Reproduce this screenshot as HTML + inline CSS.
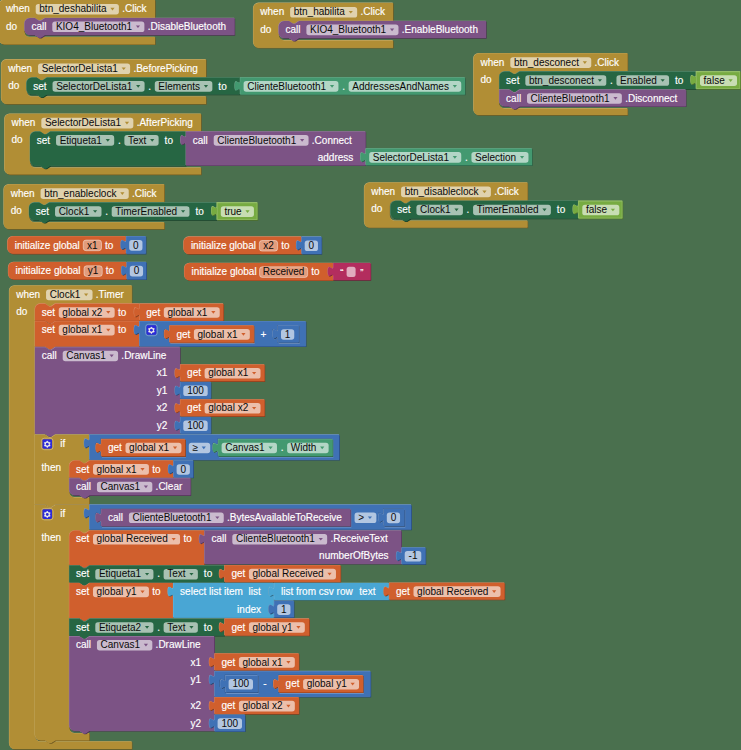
<!DOCTYPE html>
<html><head><meta charset="utf-8"><title>Blocks</title>
<style>html,body{margin:0;padding:0;background:#4a704e;overflow:hidden}svg{display:block;font-family:"Liberation Sans",sans-serif}text{white-space:pre}.l{fill:#fff;stroke:#fff;stroke-width:.15px}.f{fill:#0a0a0a}</style>
</head><body>
<svg width="741" height="750" viewBox="0 0 741 750" font-family="Liberation Sans, sans-serif" font-size="10">
<rect width="741" height="750" fill="#4a704e"/>
<path d="M -1.1,5.24 a 5.44,5.44 0 0,1 5.44,-5.44 H 155 v 18.2 H 44.7 l -4.08,2.72 -2.04,0 -4.08,-2.72 H 29.74 a 5.44,5.44 0 0,0 -5.44,5.44 v 8.22 a 5.44,5.44 0 0,0 5.44,5.44 H 155 v 7.3 H 4.34 a 5.44,5.44 0 0,1 -5.44,-5.44 z" fill="#735c22" transform="translate(.7 .7)"/>
<path d="M -1.1,5.24 a 5.44,5.44 0 0,1 5.44,-5.44 H 155 v 18.2 H 44.7 l -4.08,2.72 -2.04,0 -4.08,-2.72 H 29.74 a 5.44,5.44 0 0,0 -5.44,5.44 v 8.22 a 5.44,5.44 0 0,0 5.44,5.44 H 155 v 7.3 H 4.34 a 5.44,5.44 0 0,1 -5.44,-5.44 z" fill="#c9b275" transform="translate(-.35 -.35)"/>
<path d="M -1.1,5.24 a 5.44,5.44 0 0,1 5.44,-5.44 H 155 v 18.2 H 44.7 l -4.08,2.72 -2.04,0 -4.08,-2.72 H 29.74 a 5.44,5.44 0 0,0 -5.44,5.44 v 8.22 a 5.44,5.44 0 0,0 5.44,5.44 H 155 v 7.3 H 4.34 a 5.44,5.44 0 0,1 -5.44,-5.44 z" fill="#b18e35"/>
<text x="5.9" y="12.3" class="l">when</text>
<rect x="35.71" y="3.9" width="83.18" height="10.6" rx="2.7" fill="#fff" fill-opacity=".6"/>
<text x="39.31" y="12.3" class="f">btn_deshabilita</text>
<path d="M 110.38,7.8 h 4.2 l -2.1,2.7 z" fill="#b18e35"/>
<text x="122.18" y="12.3" class="l">.Click</text>
<text x="5.9" y="29.5" class="l">do</text>
<path d="M 24.6,23.44 a 5.44,5.44 0 0,1 5.44,-5.44 H 34.8 l 4.08,2.72 2.04,0 4.08,-2.72 H 234.5 v 17 H 45 l -4.08,2.72 -2.04,0 -4.08,-2.72 H 30.04 a 5.44,5.44 0 0,1 -5.44,-5.44 z" fill="#503556" transform="translate(.7 .7)"/>
<path d="M 24.6,23.44 a 5.44,5.44 0 0,1 5.44,-5.44 H 34.8 l 4.08,2.72 2.04,0 4.08,-2.72 H 234.5 v 17 H 45 l -4.08,2.72 -2.04,0 -4.08,-2.72 H 30.04 a 5.44,5.44 0 0,1 -5.44,-5.44 z" fill="#a58aac" transform="translate(-.35 -.35)"/>
<path d="M 24.6,23.44 a 5.44,5.44 0 0,1 5.44,-5.44 H 34.8 l 4.08,2.72 2.04,0 4.08,-2.72 H 234.5 v 17 H 45 l -4.08,2.72 -2.04,0 -4.08,-2.72 H 30.04 a 5.44,5.44 0 0,1 -5.44,-5.44 z" fill="#7c5385"/>
<text x="31.4" y="29.9" class="l">call</text>
<rect x="52.31" y="21.5" width="92.07" height="10.6" rx="2.7" fill="#fff" fill-opacity=".6"/>
<text x="55.91" y="29.9" class="f">KIO4_Bluetooth1</text>
<path d="M 135.87,25.4 h 4.2 l -2.1,2.7 z" fill="#7c5385"/>
<text x="147.67" y="29.9" class="l">.DisableBluetooth</text>
<path d="M 253.3,8.34 a 5.44,5.44 0 0,1 5.44,-5.44 H 393 v 18.2 H 299.1 l -4.08,2.72 -2.04,0 -4.08,-2.72 H 284.14 a 5.44,5.44 0 0,0 -5.44,5.44 v 8.42 a 5.44,5.44 0 0,0 5.44,5.44 H 393 v 7.4 H 258.74 a 5.44,5.44 0 0,1 -5.44,-5.44 z" fill="#735c22" transform="translate(.7 .7)"/>
<path d="M 253.3,8.34 a 5.44,5.44 0 0,1 5.44,-5.44 H 393 v 18.2 H 299.1 l -4.08,2.72 -2.04,0 -4.08,-2.72 H 284.14 a 5.44,5.44 0 0,0 -5.44,5.44 v 8.42 a 5.44,5.44 0 0,0 5.44,5.44 H 393 v 7.4 H 258.74 a 5.44,5.44 0 0,1 -5.44,-5.44 z" fill="#c9b275" transform="translate(-.35 -.35)"/>
<path d="M 253.3,8.34 a 5.44,5.44 0 0,1 5.44,-5.44 H 393 v 18.2 H 299.1 l -4.08,2.72 -2.04,0 -4.08,-2.72 H 284.14 a 5.44,5.44 0 0,0 -5.44,5.44 v 8.42 a 5.44,5.44 0 0,0 5.44,5.44 H 393 v 7.4 H 258.74 a 5.44,5.44 0 0,1 -5.44,-5.44 z" fill="#b18e35"/>
<text x="260.3" y="15.4" class="l">when</text>
<rect x="290.11" y="7" width="67.05" height="10.6" rx="2.7" fill="#fff" fill-opacity=".6"/>
<text x="293.71" y="15.4" class="f">btn_habilita</text>
<path d="M 348.66,10.9 h 4.2 l -2.1,2.7 z" fill="#b18e35"/>
<text x="360.46" y="15.4" class="l">.Click</text>
<text x="260.3" y="32.6" class="l">do</text>
<path d="M 278.7,26.54 a 5.44,5.44 0 0,1 5.44,-5.44 H 288.9 l 4.08,2.72 2.04,0 4.08,-2.72 H 486 v 17 H 299.1 l -4.08,2.72 -2.04,0 -4.08,-2.72 H 284.14 a 5.44,5.44 0 0,1 -5.44,-5.44 z" fill="#503556" transform="translate(.7 .7)"/>
<path d="M 278.7,26.54 a 5.44,5.44 0 0,1 5.44,-5.44 H 288.9 l 4.08,2.72 2.04,0 4.08,-2.72 H 486 v 17 H 299.1 l -4.08,2.72 -2.04,0 -4.08,-2.72 H 284.14 a 5.44,5.44 0 0,1 -5.44,-5.44 z" fill="#a58aac" transform="translate(-.35 -.35)"/>
<path d="M 278.7,26.54 a 5.44,5.44 0 0,1 5.44,-5.44 H 288.9 l 4.08,2.72 2.04,0 4.08,-2.72 H 486 v 17 H 299.1 l -4.08,2.72 -2.04,0 -4.08,-2.72 H 284.14 a 5.44,5.44 0 0,1 -5.44,-5.44 z" fill="#7c5385"/>
<text x="285.5" y="33" class="l">call</text>
<rect x="306.41" y="24.6" width="92.07" height="10.6" rx="2.7" fill="#fff" fill-opacity=".6"/>
<text x="310.01" y="33" class="f">KIO4_Bluetooth1</text>
<path d="M 389.97,28.5 h 4.2 l -2.1,2.7 z" fill="#7c5385"/>
<text x="401.77" y="33" class="l">.EnableBluetooth</text>
<path d="M 1.25,64.84 a 5.44,5.44 0 0,1 5.44,-5.44 H 206 v 18.2 H 47.05 l -4.08,2.72 -2.04,0 -4.08,-2.72 H 32.09 a 5.44,5.44 0 0,0 -5.44,5.44 v 8.02 a 5.44,5.44 0 0,0 5.44,5.44 H 206 v 7.5 H 6.69 a 5.44,5.44 0 0,1 -5.44,-5.44 z" fill="#735c22" transform="translate(.7 .7)"/>
<path d="M 1.25,64.84 a 5.44,5.44 0 0,1 5.44,-5.44 H 206 v 18.2 H 47.05 l -4.08,2.72 -2.04,0 -4.08,-2.72 H 32.09 a 5.44,5.44 0 0,0 -5.44,5.44 v 8.02 a 5.44,5.44 0 0,0 5.44,5.44 H 206 v 7.5 H 6.69 a 5.44,5.44 0 0,1 -5.44,-5.44 z" fill="#c9b275" transform="translate(-.35 -.35)"/>
<path d="M 1.25,64.84 a 5.44,5.44 0 0,1 5.44,-5.44 H 206 v 18.2 H 47.05 l -4.08,2.72 -2.04,0 -4.08,-2.72 H 32.09 a 5.44,5.44 0 0,0 -5.44,5.44 v 8.02 a 5.44,5.44 0 0,0 5.44,5.44 H 206 v 7.5 H 6.69 a 5.44,5.44 0 0,1 -5.44,-5.44 z" fill="#b18e35"/>
<text x="8.25" y="71.9" class="l">when</text>
<rect x="38.06" y="63.5" width="92.05" height="10.6" rx="2.7" fill="#fff" fill-opacity=".6"/>
<text x="41.66" y="71.9" class="f">SelectorDeLista1</text>
<path d="M 121.61,67.4 h 4.2 l -2.1,2.7 z" fill="#b18e35"/>
<text x="133.41" y="71.9" class="l">.BeforePicking</text>
<text x="8.25" y="89.1" class="l">do</text>
<path d="M 26.5,83.04 a 5.44,5.44 0 0,1 5.44,-5.44 H 36.7 l 4.08,2.72 2.04,0 4.08,-2.72 H 239.8 v 3.4 c 0,6.8 -5.44,-5.44 -5.44,5.1 s 5.44,-1.7 5.44,5.1 v 3.4 H 46.9 l -4.08,2.72 -2.04,0 -4.08,-2.72 H 31.94 a 5.44,5.44 0 0,1 -5.44,-5.44 z" fill="#18422b" transform="translate(.7 .7)"/>
<path d="M 26.5,83.04 a 5.44,5.44 0 0,1 5.44,-5.44 H 36.7 l 4.08,2.72 2.04,0 4.08,-2.72 H 239.8 v 3.4 c 0,6.8 -5.44,-5.44 -5.44,5.1 s 5.44,-1.7 5.44,5.1 v 3.4 H 46.9 l -4.08,2.72 -2.04,0 -4.08,-2.72 H 31.94 a 5.44,5.44 0 0,1 -5.44,-5.44 z" fill="#6b967f" transform="translate(-.35 -.35)"/>
<path d="M 26.5,83.04 a 5.44,5.44 0 0,1 5.44,-5.44 H 36.7 l 4.08,2.72 2.04,0 4.08,-2.72 H 239.8 v 3.4 c 0,6.8 -5.44,-5.44 -5.44,5.1 s 5.44,-1.7 5.44,5.1 v 3.4 H 46.9 l -4.08,2.72 -2.04,0 -4.08,-2.72 H 31.94 a 5.44,5.44 0 0,1 -5.44,-5.44 z" fill="#266643"/>
<text x="33.3" y="89.5" class="l">set</text>
<rect x="52.54" y="81.1" width="92.05" height="10.6" rx="2.7" fill="#fff" fill-opacity=".6"/>
<text x="56.14" y="89.5" class="f">SelectorDeLista1</text>
<path d="M 136.09,85 h 4.2 l -2.1,2.7 z" fill="#266643"/>
<text x="148.29" y="89.5" class="l">.</text>
<rect x="154.77" y="81.1" width="57.59" height="10.6" rx="2.7" fill="#fff" fill-opacity=".6"/>
<text x="158.37" y="89.5" class="f">Elements</text>
<path d="M 203.86,85 h 4.2 l -2.1,2.7 z" fill="#266643"/>
<text x="218.36" y="89.5" class="l">to</text>
<path d="M 240.2,77.6 H 465 v 17 H 240.2 V 91.2 c 0,-6.8 -5.44,5.44 -5.44,-5.1 s 5.44,1.7 5.44,-5.1 z" fill="#2b6348" transform="translate(.7 .7)"/>
<path d="M 240.2,77.6 H 465 v 17 H 240.2 V 91.2 c 0,-6.8 -5.44,5.44 -5.44,-5.1 s 5.44,1.7 5.44,-5.1 z" fill="#7fb99d" transform="translate(-.35 -.35)"/>
<path d="M 240.2,77.6 H 465 v 17 H 240.2 V 91.2 c 0,-6.8 -5.44,5.44 -5.44,-5.1 s 5.44,1.7 5.44,-5.1 z" fill="#439970"/>
<rect x="243.6" y="81.1" width="94.85" height="10.6" rx="2.7" fill="#fff" fill-opacity=".6"/>
<text x="247.2" y="89.5" class="f">ClienteBluetooth1</text>
<path d="M 329.95,85 h 4.2 l -2.1,2.7 z" fill="#439970"/>
<text x="342.15" y="89.5" class="l">.</text>
<rect x="348.63" y="81.1" width="112.62" height="10.6" rx="2.7" fill="#fff" fill-opacity=".6"/>
<text x="352.23" y="89.5" class="f">AddressesAndNames</text>
<path d="M 452.74,85 h 4.2 l -2.1,2.7 z" fill="#439970"/>
<path d="M 4.5,119.19 a 5.44,5.44 0 0,1 5.44,-5.44 H 201 v 18.2 H 50.3 l -4.08,2.72 -2.04,0 -4.08,-2.72 H 35.34 a 5.44,5.44 0 0,0 -5.44,5.44 v 24.82 a 5.44,5.44 0 0,0 5.44,5.44 H 201 v 6.8 H 9.94 a 5.44,5.44 0 0,1 -5.44,-5.44 z" fill="#735c22" transform="translate(.7 .7)"/>
<path d="M 4.5,119.19 a 5.44,5.44 0 0,1 5.44,-5.44 H 201 v 18.2 H 50.3 l -4.08,2.72 -2.04,0 -4.08,-2.72 H 35.34 a 5.44,5.44 0 0,0 -5.44,5.44 v 24.82 a 5.44,5.44 0 0,0 5.44,5.44 H 201 v 6.8 H 9.94 a 5.44,5.44 0 0,1 -5.44,-5.44 z" fill="#c9b275" transform="translate(-.35 -.35)"/>
<path d="M 4.5,119.19 a 5.44,5.44 0 0,1 5.44,-5.44 H 201 v 18.2 H 50.3 l -4.08,2.72 -2.04,0 -4.08,-2.72 H 35.34 a 5.44,5.44 0 0,0 -5.44,5.44 v 24.82 a 5.44,5.44 0 0,0 5.44,5.44 H 201 v 6.8 H 9.94 a 5.44,5.44 0 0,1 -5.44,-5.44 z" fill="#b18e35"/>
<text x="11.5" y="126.25" class="l">when</text>
<rect x="41.31" y="117.85" width="92.05" height="10.6" rx="2.7" fill="#fff" fill-opacity=".6"/>
<text x="44.91" y="126.25" class="f">SelectorDeLista1</text>
<path d="M 124.86,121.75 h 4.2 l -2.1,2.7 z" fill="#b18e35"/>
<text x="136.66" y="126.25" class="l">.AfterPicking</text>
<text x="11.5" y="143.45" class="l">do</text>
<path d="M 30,137.04 a 5.44,5.44 0 0,1 5.44,-5.44 H 40.2 l 4.08,2.72 2.04,0 4.08,-2.72 H 185.8 v 3.4 c 0,6.8 -5.44,-5.44 -5.44,5.1 s 5.44,-1.7 5.44,5.1 v 3.8 v 16.8 H 50.4 l -4.08,2.72 -2.04,0 -4.08,-2.72 H 35.44 a 5.44,5.44 0 0,1 -5.44,-5.44 z" fill="#18422b" transform="translate(.7 .7)"/>
<path d="M 30,137.04 a 5.44,5.44 0 0,1 5.44,-5.44 H 40.2 l 4.08,2.72 2.04,0 4.08,-2.72 H 185.8 v 3.4 c 0,6.8 -5.44,-5.44 -5.44,5.1 s 5.44,-1.7 5.44,5.1 v 3.8 v 16.8 H 50.4 l -4.08,2.72 -2.04,0 -4.08,-2.72 H 35.44 a 5.44,5.44 0 0,1 -5.44,-5.44 z" fill="#6b967f" transform="translate(-.35 -.35)"/>
<path d="M 30,137.04 a 5.44,5.44 0 0,1 5.44,-5.44 H 40.2 l 4.08,2.72 2.04,0 4.08,-2.72 H 185.8 v 3.4 c 0,6.8 -5.44,-5.44 -5.44,5.1 s 5.44,-1.7 5.44,5.1 v 3.8 v 16.8 H 50.4 l -4.08,2.72 -2.04,0 -4.08,-2.72 H 35.44 a 5.44,5.44 0 0,1 -5.44,-5.44 z" fill="#266643"/>
<text x="36.8" y="143.5" class="l">set</text>
<rect x="56.04" y="135.1" width="58.16" height="10.6" rx="2.7" fill="#fff" fill-opacity=".6"/>
<text x="59.64" y="143.5" class="f">Etiqueta1</text>
<path d="M 105.7,139 h 4.2 l -2.1,2.7 z" fill="#266643"/>
<text x="117.9" y="143.5" class="l">.</text>
<rect x="124.38" y="135.1" width="34.24" height="10.6" rx="2.7" fill="#fff" fill-opacity=".6"/>
<text x="127.98" y="143.5" class="f">Text</text>
<path d="M 150.11,139 h 4.2 l -2.1,2.7 z" fill="#266643"/>
<text x="164.61" y="143.5" class="l">to</text>
<path d="M 186,131.6 H 365.5 v 17.2 v 3.4 c 0,6.8 -5.44,-5.44 -5.44,5.1 s 5.44,-1.7 5.44,5.1 v 3 H 186 V 145.2 c 0,-6.8 -5.44,5.44 -5.44,-5.1 s 5.44,1.7 5.44,-5.1 z" fill="#503556" transform="translate(.7 .7)"/>
<path d="M 186,131.6 H 365.5 v 17.2 v 3.4 c 0,6.8 -5.44,-5.44 -5.44,5.1 s 5.44,-1.7 5.44,5.1 v 3 H 186 V 145.2 c 0,-6.8 -5.44,5.44 -5.44,-5.1 s 5.44,1.7 5.44,-5.1 z" fill="#a58aac" transform="translate(-.35 -.35)"/>
<path d="M 186,131.6 H 365.5 v 17.2 v 3.4 c 0,6.8 -5.44,-5.44 -5.44,5.1 s 5.44,-1.7 5.44,5.1 v 3 H 186 V 145.2 c 0,-6.8 -5.44,5.44 -5.44,-5.1 s 5.44,1.7 5.44,-5.1 z" fill="#7c5385"/>
<text x="192.8" y="143.5" class="l">call</text>
<rect x="213.71" y="135.1" width="94.85" height="10.6" rx="2.7" fill="#fff" fill-opacity=".6"/>
<text x="217.31" y="143.5" class="f">ClienteBluetooth1</text>
<path d="M 300.05,139 h 4.2 l -2.1,2.7 z" fill="#7c5385"/>
<text x="311.85" y="143.5" class="l">.Connect</text>
<text x="353.3" y="160.7" class="l" text-anchor="end">address</text>
<path d="M 365.8,148.6 H 532 v 16.6 H 365.8 V 162.2 c 0,-6.8 -5.44,5.44 -5.44,-5.1 s 5.44,1.7 5.44,-5.1 z" fill="#2b6348" transform="translate(.7 .7)"/>
<path d="M 365.8,148.6 H 532 v 16.6 H 365.8 V 162.2 c 0,-6.8 -5.44,5.44 -5.44,-5.1 s 5.44,1.7 5.44,-5.1 z" fill="#7fb99d" transform="translate(-.35 -.35)"/>
<path d="M 365.8,148.6 H 532 v 16.6 H 365.8 V 162.2 c 0,-6.8 -5.44,5.44 -5.44,-5.1 s 5.44,1.7 5.44,-5.1 z" fill="#439970"/>
<rect x="369.2" y="152.1" width="92.05" height="10.6" rx="2.7" fill="#fff" fill-opacity=".6"/>
<text x="372.8" y="160.5" class="f">SelectorDeLista1</text>
<path d="M 452.75,156 h 4.2 l -2.1,2.7 z" fill="#439970"/>
<text x="464.95" y="160.5" class="l">.</text>
<rect x="471.43" y="152.1" width="57.04" height="10.6" rx="2.7" fill="#fff" fill-opacity=".6"/>
<text x="475.03" y="160.5" class="f">Selection</text>
<path d="M 519.97,156 h 4.2 l -2.1,2.7 z" fill="#439970"/>
<path d="M 473.5,58.69 a 5.44,5.44 0 0,1 5.44,-5.44 H 627.5 v 18.2 H 519.3 l -4.08,2.72 -2.04,0 -4.08,-2.72 H 504.34 a 5.44,5.44 0 0,0 -5.44,5.44 v 26.12 a 5.44,5.44 0 0,0 5.44,5.44 H 627.5 v 6.6 H 478.94 a 5.44,5.44 0 0,1 -5.44,-5.44 z" fill="#735c22" transform="translate(.7 .7)"/>
<path d="M 473.5,58.69 a 5.44,5.44 0 0,1 5.44,-5.44 H 627.5 v 18.2 H 519.3 l -4.08,2.72 -2.04,0 -4.08,-2.72 H 504.34 a 5.44,5.44 0 0,0 -5.44,5.44 v 26.12 a 5.44,5.44 0 0,0 5.44,5.44 H 627.5 v 6.6 H 478.94 a 5.44,5.44 0 0,1 -5.44,-5.44 z" fill="#c9b275" transform="translate(-.35 -.35)"/>
<path d="M 473.5,58.69 a 5.44,5.44 0 0,1 5.44,-5.44 H 627.5 v 18.2 H 519.3 l -4.08,2.72 -2.04,0 -4.08,-2.72 H 504.34 a 5.44,5.44 0 0,0 -5.44,5.44 v 26.12 a 5.44,5.44 0 0,0 5.44,5.44 H 627.5 v 6.6 H 478.94 a 5.44,5.44 0 0,1 -5.44,-5.44 z" fill="#b18e35"/>
<text x="480.5" y="65.75" class="l">when</text>
<rect x="510.31" y="57.35" width="80.95" height="10.6" rx="2.7" fill="#fff" fill-opacity=".6"/>
<text x="513.91" y="65.75" class="f">btn_desconect</text>
<path d="M 582.76,61.25 h 4.2 l -2.1,2.7 z" fill="#b18e35"/>
<text x="594.56" y="65.75" class="l">.Click</text>
<text x="480.5" y="82.95" class="l">do</text>
<path d="M 499.3,76.84 a 5.44,5.44 0 0,1 5.44,-5.44 H 509.5 l 4.08,2.72 2.04,0 4.08,-2.72 H 695.6 v 3.4 c 0,6.8 -5.44,-5.44 -5.44,5.1 s 5.44,-1.7 5.44,5.1 v 4.1 H 519.7 l -4.08,2.72 -2.04,0 -4.08,-2.72 H 499.3 z" fill="#18422b" transform="translate(.7 .7)"/>
<path d="M 499.3,76.84 a 5.44,5.44 0 0,1 5.44,-5.44 H 509.5 l 4.08,2.72 2.04,0 4.08,-2.72 H 695.6 v 3.4 c 0,6.8 -5.44,-5.44 -5.44,5.1 s 5.44,-1.7 5.44,5.1 v 4.1 H 519.7 l -4.08,2.72 -2.04,0 -4.08,-2.72 H 499.3 z" fill="#6b967f" transform="translate(-.35 -.35)"/>
<path d="M 499.3,76.84 a 5.44,5.44 0 0,1 5.44,-5.44 H 509.5 l 4.08,2.72 2.04,0 4.08,-2.72 H 695.6 v 3.4 c 0,6.8 -5.44,-5.44 -5.44,5.1 s 5.44,-1.7 5.44,5.1 v 4.1 H 519.7 l -4.08,2.72 -2.04,0 -4.08,-2.72 H 499.3 z" fill="#266643"/>
<text x="506.1" y="83.65" class="l">set</text>
<rect x="525.34" y="75.25" width="80.95" height="10.6" rx="2.7" fill="#fff" fill-opacity=".6"/>
<text x="528.94" y="83.65" class="f">btn_desconect</text>
<path d="M 597.79,79.15 h 4.2 l -2.1,2.7 z" fill="#266643"/>
<text x="609.99" y="83.65" class="l">.</text>
<rect x="616.47" y="75.25" width="52.6" height="10.6" rx="2.7" fill="#fff" fill-opacity=".6"/>
<text x="620.07" y="83.65" class="f">Enabled</text>
<path d="M 660.57,79.15 h 4.2 l -2.1,2.7 z" fill="#266643"/>
<text x="675.07" y="83.65" class="l">to</text>
<path d="M 696,71.4 H 740.3 v 17.7 H 696 V 85 c 0,-6.8 -5.44,5.44 -5.44,-5.1 s 5.44,1.7 5.44,-5.1 z" fill="#4d6f2a" transform="translate(.7 .7)"/>
<path d="M 696,71.4 H 740.3 v 17.7 H 696 V 85 c 0,-6.8 -5.44,5.44 -5.44,-5.1 s 5.44,1.7 5.44,-5.1 z" fill="#a2c57d" transform="translate(-.35 -.35)"/>
<path d="M 696,71.4 H 740.3 v 17.7 H 696 V 85 c 0,-6.8 -5.44,5.44 -5.44,-5.1 s 5.44,1.7 5.44,-5.1 z" fill="#77ab41"/>
<rect x="696.5" y="71.9" width="43.3" height="16.7" fill="none" stroke="#a6c883" stroke-width=".7" opacity=".55"/>
<rect x="700" y="75.35" width="37.02" height="10.6" rx="2.7" fill="#fff" fill-opacity=".6"/>
<text x="703.6" y="83.75" class="f">false</text>
<path d="M 728.52,79.25 h 4.2 l -2.1,2.7 z" fill="#77ab41"/>
<path d="M 499.3,89.7 H 509.5 l 4.08,2.72 2.04,0 4.08,-2.72 H 685.8 v 16.7 H 519.7 l -4.08,2.72 -2.04,0 -4.08,-2.72 H 504.74 a 5.44,5.44 0 0,1 -5.44,-5.44 z" fill="#503556" transform="translate(.7 .7)"/>
<path d="M 499.3,89.7 H 509.5 l 4.08,2.72 2.04,0 4.08,-2.72 H 685.8 v 16.7 H 519.7 l -4.08,2.72 -2.04,0 -4.08,-2.72 H 504.74 a 5.44,5.44 0 0,1 -5.44,-5.44 z" fill="#a58aac" transform="translate(-.35 -.35)"/>
<path d="M 499.3,89.7 H 509.5 l 4.08,2.72 2.04,0 4.08,-2.72 H 685.8 v 16.7 H 519.7 l -4.08,2.72 -2.04,0 -4.08,-2.72 H 504.74 a 5.44,5.44 0 0,1 -5.44,-5.44 z" fill="#7c5385"/>
<text x="506.1" y="101.6" class="l">call</text>
<rect x="527.01" y="93.2" width="94.85" height="10.6" rx="2.7" fill="#fff" fill-opacity=".6"/>
<text x="530.61" y="101.6" class="f">ClienteBluetooth1</text>
<path d="M 613.35,97.1 h 4.2 l -2.1,2.7 z" fill="#7c5385"/>
<text x="625.15" y="101.6" class="l">.Disconnect</text>
<path d="M 3.75,189.69 a 5.44,5.44 0 0,1 5.44,-5.44 H 164.25 v 18.2 H 49.55 l -4.08,2.72 -2.04,0 -4.08,-2.72 H 34.59 a 5.44,5.44 0 0,0 -5.44,5.44 v 9.02 a 5.44,5.44 0 0,0 5.44,5.44 H 164.25 v 6.7 H 9.19 a 5.44,5.44 0 0,1 -5.44,-5.44 z" fill="#735c22" transform="translate(.7 .7)"/>
<path d="M 3.75,189.69 a 5.44,5.44 0 0,1 5.44,-5.44 H 164.25 v 18.2 H 49.55 l -4.08,2.72 -2.04,0 -4.08,-2.72 H 34.59 a 5.44,5.44 0 0,0 -5.44,5.44 v 9.02 a 5.44,5.44 0 0,0 5.44,5.44 H 164.25 v 6.7 H 9.19 a 5.44,5.44 0 0,1 -5.44,-5.44 z" fill="#c9b275" transform="translate(-.35 -.35)"/>
<path d="M 3.75,189.69 a 5.44,5.44 0 0,1 5.44,-5.44 H 164.25 v 18.2 H 49.55 l -4.08,2.72 -2.04,0 -4.08,-2.72 H 34.59 a 5.44,5.44 0 0,0 -5.44,5.44 v 9.02 a 5.44,5.44 0 0,0 5.44,5.44 H 164.25 v 6.7 H 9.19 a 5.44,5.44 0 0,1 -5.44,-5.44 z" fill="#b18e35"/>
<text x="10.75" y="196.75" class="l">when</text>
<rect x="40.56" y="188.35" width="88.18" height="10.6" rx="2.7" fill="#fff" fill-opacity=".6"/>
<text x="44.16" y="196.75" class="f">btn_enableclock</text>
<path d="M 120.23,192.25 h 4.2 l -2.1,2.7 z" fill="#b18e35"/>
<text x="132.03" y="196.75" class="l">.Click</text>
<text x="10.75" y="213.95" class="l">do</text>
<path d="M 29,207.84 a 5.44,5.44 0 0,1 5.44,-5.44 H 39.2 l 4.08,2.72 2.04,0 4.08,-2.72 H 216.4 v 3.4 c 0,6.8 -5.44,-5.44 -5.44,5.1 s 5.44,-1.7 5.44,5.1 v 4.1 H 49.4 l -4.08,2.72 -2.04,0 -4.08,-2.72 H 34.44 a 5.44,5.44 0 0,1 -5.44,-5.44 z" fill="#18422b" transform="translate(.7 .7)"/>
<path d="M 29,207.84 a 5.44,5.44 0 0,1 5.44,-5.44 H 39.2 l 4.08,2.72 2.04,0 4.08,-2.72 H 216.4 v 3.4 c 0,6.8 -5.44,-5.44 -5.44,5.1 s 5.44,-1.7 5.44,5.1 v 4.1 H 49.4 l -4.08,2.72 -2.04,0 -4.08,-2.72 H 34.44 a 5.44,5.44 0 0,1 -5.44,-5.44 z" fill="#6b967f" transform="translate(-.35 -.35)"/>
<path d="M 29,207.84 a 5.44,5.44 0 0,1 5.44,-5.44 H 39.2 l 4.08,2.72 2.04,0 4.08,-2.72 H 216.4 v 3.4 c 0,6.8 -5.44,-5.44 -5.44,5.1 s 5.44,-1.7 5.44,5.1 v 4.1 H 49.4 l -4.08,2.72 -2.04,0 -4.08,-2.72 H 34.44 a 5.44,5.44 0 0,1 -5.44,-5.44 z" fill="#266643"/>
<text x="35.8" y="214.65" class="l">set</text>
<rect x="55.04" y="206.25" width="46.47" height="10.6" rx="2.7" fill="#fff" fill-opacity=".6"/>
<text x="58.64" y="214.65" class="f">Clock1</text>
<path d="M 93.01,210.15 h 4.2 l -2.1,2.7 z" fill="#266643"/>
<text x="105.21" y="214.65" class="l">.</text>
<rect x="111.69" y="206.25" width="77.78" height="10.6" rx="2.7" fill="#fff" fill-opacity=".6"/>
<text x="115.29" y="214.65" class="f">TimerEnabled</text>
<path d="M 180.97,210.15 h 4.2 l -2.1,2.7 z" fill="#266643"/>
<text x="195.47" y="214.65" class="l">to</text>
<path d="M 216.8,202.4 H 257.5 v 17.7 H 216.8 V 216 c 0,-6.8 -5.44,5.44 -5.44,-5.1 s 5.44,1.7 5.44,-5.1 z" fill="#4d6f2a" transform="translate(.7 .7)"/>
<path d="M 216.8,202.4 H 257.5 v 17.7 H 216.8 V 216 c 0,-6.8 -5.44,5.44 -5.44,-5.1 s 5.44,1.7 5.44,-5.1 z" fill="#a2c57d" transform="translate(-.35 -.35)"/>
<path d="M 216.8,202.4 H 257.5 v 17.7 H 216.8 V 216 c 0,-6.8 -5.44,5.44 -5.44,-5.1 s 5.44,1.7 5.44,-5.1 z" fill="#77ab41"/>
<rect x="217.3" y="202.9" width="39.7" height="16.7" fill="none" stroke="#a6c883" stroke-width=".7" opacity=".55"/>
<rect x="220.8" y="206.35" width="33.13" height="10.6" rx="2.7" fill="#fff" fill-opacity=".6"/>
<text x="224.4" y="214.75" class="f">true</text>
<path d="M 245.43,210.25 h 4.2 l -2.1,2.7 z" fill="#77ab41"/>
<path d="M 364.25,187.94 a 5.44,5.44 0 0,1 5.44,-5.44 H 527.5 v 18.2 H 410.05 l -4.08,2.72 -2.04,0 -4.08,-2.72 H 395.09 a 5.44,5.44 0 0,0 -5.44,5.44 v 9.22 a 5.44,5.44 0 0,0 5.44,5.44 H 527.5 v 6.8 H 369.69 a 5.44,5.44 0 0,1 -5.44,-5.44 z" fill="#735c22" transform="translate(.7 .7)"/>
<path d="M 364.25,187.94 a 5.44,5.44 0 0,1 5.44,-5.44 H 527.5 v 18.2 H 410.05 l -4.08,2.72 -2.04,0 -4.08,-2.72 H 395.09 a 5.44,5.44 0 0,0 -5.44,5.44 v 9.22 a 5.44,5.44 0 0,0 5.44,5.44 H 527.5 v 6.8 H 369.69 a 5.44,5.44 0 0,1 -5.44,-5.44 z" fill="#c9b275" transform="translate(-.35 -.35)"/>
<path d="M 364.25,187.94 a 5.44,5.44 0 0,1 5.44,-5.44 H 527.5 v 18.2 H 410.05 l -4.08,2.72 -2.04,0 -4.08,-2.72 H 395.09 a 5.44,5.44 0 0,0 -5.44,5.44 v 9.22 a 5.44,5.44 0 0,0 5.44,5.44 H 527.5 v 6.8 H 369.69 a 5.44,5.44 0 0,1 -5.44,-5.44 z" fill="#b18e35"/>
<text x="371.25" y="195" class="l">when</text>
<rect x="401.06" y="186.6" width="89.84" height="10.6" rx="2.7" fill="#fff" fill-opacity=".6"/>
<text x="404.66" y="195" class="f">btn_disableclock</text>
<path d="M 482.39,190.5 h 4.2 l -2.1,2.7 z" fill="#b18e35"/>
<text x="494.19" y="195" class="l">.Click</text>
<text x="371.25" y="212.2" class="l">do</text>
<path d="M 390.4,206.24 a 5.44,5.44 0 0,1 5.44,-5.44 H 400.6 l 4.08,2.72 2.04,0 4.08,-2.72 H 578 v 3.4 c 0,6.8 -5.44,-5.44 -5.44,5.1 s 5.44,-1.7 5.44,5.1 v 4.1 H 410.8 l -4.08,2.72 -2.04,0 -4.08,-2.72 H 395.84 a 5.44,5.44 0 0,1 -5.44,-5.44 z" fill="#18422b" transform="translate(.7 .7)"/>
<path d="M 390.4,206.24 a 5.44,5.44 0 0,1 5.44,-5.44 H 400.6 l 4.08,2.72 2.04,0 4.08,-2.72 H 578 v 3.4 c 0,6.8 -5.44,-5.44 -5.44,5.1 s 5.44,-1.7 5.44,5.1 v 4.1 H 410.8 l -4.08,2.72 -2.04,0 -4.08,-2.72 H 395.84 a 5.44,5.44 0 0,1 -5.44,-5.44 z" fill="#6b967f" transform="translate(-.35 -.35)"/>
<path d="M 390.4,206.24 a 5.44,5.44 0 0,1 5.44,-5.44 H 400.6 l 4.08,2.72 2.04,0 4.08,-2.72 H 578 v 3.4 c 0,6.8 -5.44,-5.44 -5.44,5.1 s 5.44,-1.7 5.44,5.1 v 4.1 H 410.8 l -4.08,2.72 -2.04,0 -4.08,-2.72 H 395.84 a 5.44,5.44 0 0,1 -5.44,-5.44 z" fill="#266643"/>
<text x="397.2" y="213.05" class="l">set</text>
<rect x="416.44" y="204.65" width="46.47" height="10.6" rx="2.7" fill="#fff" fill-opacity=".6"/>
<text x="420.04" y="213.05" class="f">Clock1</text>
<path d="M 454.41,208.55 h 4.2 l -2.1,2.7 z" fill="#266643"/>
<text x="466.61" y="213.05" class="l">.</text>
<rect x="473.09" y="204.65" width="77.78" height="10.6" rx="2.7" fill="#fff" fill-opacity=".6"/>
<text x="476.69" y="213.05" class="f">TimerEnabled</text>
<path d="M 542.37,208.55 h 4.2 l -2.1,2.7 z" fill="#266643"/>
<text x="556.87" y="213.05" class="l">to</text>
<path d="M 578.3,200.8 H 622.5 v 17.7 H 578.3 V 214.4 c 0,-6.8 -5.44,5.44 -5.44,-5.1 s 5.44,1.7 5.44,-5.1 z" fill="#4d6f2a" transform="translate(.7 .7)"/>
<path d="M 578.3,200.8 H 622.5 v 17.7 H 578.3 V 214.4 c 0,-6.8 -5.44,5.44 -5.44,-5.1 s 5.44,1.7 5.44,-5.1 z" fill="#a2c57d" transform="translate(-.35 -.35)"/>
<path d="M 578.3,200.8 H 622.5 v 17.7 H 578.3 V 214.4 c 0,-6.8 -5.44,5.44 -5.44,-5.1 s 5.44,1.7 5.44,-5.1 z" fill="#77ab41"/>
<rect x="578.8" y="201.3" width="43.2" height="16.7" fill="none" stroke="#a6c883" stroke-width=".7" opacity=".55"/>
<rect x="582.3" y="204.75" width="37.02" height="10.6" rx="2.7" fill="#fff" fill-opacity=".6"/>
<text x="585.9" y="213.15" class="f">false</text>
<path d="M 610.82,208.65 h 4.2 l -2.1,2.7 z" fill="#77ab41"/>
<path d="M 7.5,241.74 a 5.44,5.44 0 0,1 5.44,-5.44 H 125.8 v 3.4 c 0,6.8 -5.44,-5.44 -5.44,5.1 s 5.44,-1.7 5.44,5.1 v 3.8 H 12.94 a 5.44,5.44 0 0,1 -5.44,-5.44 z" fill="#873d1d" transform="translate(.7 .7)"/>
<path d="M 7.5,241.74 a 5.44,5.44 0 0,1 5.44,-5.44 H 125.8 v 3.4 c 0,6.8 -5.44,-5.44 -5.44,5.1 s 5.44,-1.7 5.44,5.1 v 3.8 H 12.94 a 5.44,5.44 0 0,1 -5.44,-5.44 z" fill="#df9270" transform="translate(-.35 -.35)"/>
<path d="M 7.5,241.74 a 5.44,5.44 0 0,1 5.44,-5.44 H 125.8 v 3.4 c 0,6.8 -5.44,-5.44 -5.44,5.1 s 5.44,-1.7 5.44,5.1 v 3.8 H 12.94 a 5.44,5.44 0 0,1 -5.44,-5.44 z" fill="#d05f2d"/>
<text x="14.8" y="248.5" class="l">initialize global</text>
<rect x="83.24" y="240.1" width="18.26" height="10.6" rx="2.7" fill="#fff" fill-opacity=".38" stroke="#fff" stroke-opacity=".6" stroke-width=".7"/>
<text x="87.09" y="248.5" class="f">x1</text>
<text x="105.1" y="248.5" class="l">to</text>
<path d="M 126.2,236.3 H 145.8 v 17.4 H 126.2 V 249.9 c 0,-6.8 -5.44,5.44 -5.44,-5.1 s 5.44,1.7 5.44,-5.1 z" fill="#284975" transform="translate(.7 .7)"/>
<path d="M 126.2,236.3 H 145.8 v 17.4 H 126.2 V 249.9 c 0,-6.8 -5.44,5.44 -5.44,-5.1 s 5.44,1.7 5.44,-5.1 z" fill="#7c9ecc" transform="translate(-.35 -.35)"/>
<path d="M 126.2,236.3 H 145.8 v 17.4 H 126.2 V 249.9 c 0,-6.8 -5.44,5.44 -5.44,-5.1 s 5.44,1.7 5.44,-5.1 z" fill="#3f71b5"/>
<rect x="129.2" y="240.1" width="13.26" height="10.6" rx="2.7" fill="#fff" fill-opacity=".6"/>
<text x="133.05" y="248.5" class="f">0</text>
<path d="M 8.25,267.44 a 5.44,5.44 0 0,1 5.44,-5.44 H 126.4 v 3.4 c 0,6.8 -5.44,-5.44 -5.44,5.1 s 5.44,-1.7 5.44,5.1 v 3.8 H 13.69 a 5.44,5.44 0 0,1 -5.44,-5.44 z" fill="#873d1d" transform="translate(.7 .7)"/>
<path d="M 8.25,267.44 a 5.44,5.44 0 0,1 5.44,-5.44 H 126.4 v 3.4 c 0,6.8 -5.44,-5.44 -5.44,5.1 s 5.44,-1.7 5.44,5.1 v 3.8 H 13.69 a 5.44,5.44 0 0,1 -5.44,-5.44 z" fill="#df9270" transform="translate(-.35 -.35)"/>
<path d="M 8.25,267.44 a 5.44,5.44 0 0,1 5.44,-5.44 H 126.4 v 3.4 c 0,6.8 -5.44,-5.44 -5.44,5.1 s 5.44,-1.7 5.44,5.1 v 3.8 H 13.69 a 5.44,5.44 0 0,1 -5.44,-5.44 z" fill="#d05f2d"/>
<text x="15.55" y="274.2" class="l">initialize global</text>
<rect x="83.99" y="265.8" width="18.26" height="10.6" rx="2.7" fill="#fff" fill-opacity=".38" stroke="#fff" stroke-opacity=".6" stroke-width=".7"/>
<text x="87.84" y="274.2" class="f">y1</text>
<text x="105.85" y="274.2" class="l">to</text>
<path d="M 126.8,262 H 146.3 v 17.4 H 126.8 V 275.6 c 0,-6.8 -5.44,5.44 -5.44,-5.1 s 5.44,1.7 5.44,-5.1 z" fill="#284975" transform="translate(.7 .7)"/>
<path d="M 126.8,262 H 146.3 v 17.4 H 126.8 V 275.6 c 0,-6.8 -5.44,5.44 -5.44,-5.1 s 5.44,1.7 5.44,-5.1 z" fill="#7c9ecc" transform="translate(-.35 -.35)"/>
<path d="M 126.8,262 H 146.3 v 17.4 H 126.8 V 275.6 c 0,-6.8 -5.44,5.44 -5.44,-5.1 s 5.44,1.7 5.44,-5.1 z" fill="#3f71b5"/>
<rect x="129.8" y="265.8" width="13.26" height="10.6" rx="2.7" fill="#fff" fill-opacity=".6"/>
<text x="133.65" y="274.2" class="f">0</text>
<path d="M 183.6,242.14 a 5.44,5.44 0 0,1 5.44,-5.44 H 301.3 v 3.4 c 0,6.8 -5.44,-5.44 -5.44,5.1 s 5.44,-1.7 5.44,5.1 v 3.8 H 189.04 a 5.44,5.44 0 0,1 -5.44,-5.44 z" fill="#873d1d" transform="translate(.7 .7)"/>
<path d="M 183.6,242.14 a 5.44,5.44 0 0,1 5.44,-5.44 H 301.3 v 3.4 c 0,6.8 -5.44,-5.44 -5.44,5.1 s 5.44,-1.7 5.44,5.1 v 3.8 H 189.04 a 5.44,5.44 0 0,1 -5.44,-5.44 z" fill="#df9270" transform="translate(-.35 -.35)"/>
<path d="M 183.6,242.14 a 5.44,5.44 0 0,1 5.44,-5.44 H 301.3 v 3.4 c 0,6.8 -5.44,-5.44 -5.44,5.1 s 5.44,-1.7 5.44,5.1 v 3.8 H 189.04 a 5.44,5.44 0 0,1 -5.44,-5.44 z" fill="#d05f2d"/>
<text x="190.9" y="248.9" class="l">initialize global</text>
<rect x="259.34" y="240.5" width="18.26" height="10.6" rx="2.7" fill="#fff" fill-opacity=".38" stroke="#fff" stroke-opacity=".6" stroke-width=".7"/>
<text x="263.19" y="248.9" class="f">x2</text>
<text x="281.2" y="248.9" class="l">to</text>
<path d="M 301.7,236.7 H 321.5 v 17.4 H 301.7 V 250.3 c 0,-6.8 -5.44,5.44 -5.44,-5.1 s 5.44,1.7 5.44,-5.1 z" fill="#284975" transform="translate(.7 .7)"/>
<path d="M 301.7,236.7 H 321.5 v 17.4 H 301.7 V 250.3 c 0,-6.8 -5.44,5.44 -5.44,-5.1 s 5.44,1.7 5.44,-5.1 z" fill="#7c9ecc" transform="translate(-.35 -.35)"/>
<path d="M 301.7,236.7 H 321.5 v 17.4 H 301.7 V 250.3 c 0,-6.8 -5.44,5.44 -5.44,-5.1 s 5.44,1.7 5.44,-5.1 z" fill="#3f71b5"/>
<rect x="304.7" y="240.5" width="13.26" height="10.6" rx="2.7" fill="#fff" fill-opacity=".6"/>
<text x="308.55" y="248.9" class="f">0</text>
<path d="M 184.3,268.44 a 5.44,5.44 0 0,1 5.44,-5.44 H 333 v 3.4 c 0,6.8 -5.44,-5.44 -5.44,5.1 s 5.44,-1.7 5.44,5.1 v 3.8 H 189.74 a 5.44,5.44 0 0,1 -5.44,-5.44 z" fill="#873d1d" transform="translate(.7 .7)"/>
<path d="M 184.3,268.44 a 5.44,5.44 0 0,1 5.44,-5.44 H 333 v 3.4 c 0,6.8 -5.44,-5.44 -5.44,5.1 s 5.44,-1.7 5.44,5.1 v 3.8 H 189.74 a 5.44,5.44 0 0,1 -5.44,-5.44 z" fill="#df9270" transform="translate(-.35 -.35)"/>
<path d="M 184.3,268.44 a 5.44,5.44 0 0,1 5.44,-5.44 H 333 v 3.4 c 0,6.8 -5.44,-5.44 -5.44,5.1 s 5.44,-1.7 5.44,5.1 v 3.8 H 189.74 a 5.44,5.44 0 0,1 -5.44,-5.44 z" fill="#d05f2d"/>
<text x="191.6" y="275.2" class="l">initialize global</text>
<rect x="259.54" y="266.8" width="48.09" height="10.6" rx="2.7" fill="#fff" fill-opacity=".38" stroke="#fff" stroke-opacity=".6" stroke-width=".7"/>
<text x="262.74" y="275.2" class="f">Received</text>
<text x="311.23" y="275.2" class="l">to</text>
<path d="M 333.3,263 H 370.5 v 17 H 333.3 V 276.6 c 0,-6.8 -5.44,5.44 -5.44,-5.1 s 5.44,1.7 5.44,-5.1 z" fill="#741d3d" transform="translate(.7 .7)"/>
<path d="M 333.3,263 H 370.5 v 17 H 333.3 V 276.6 c 0,-6.8 -5.44,5.44 -5.44,-5.1 s 5.44,1.7 5.44,-5.1 z" fill="#cb7091" transform="translate(-.35 -.35)"/>
<path d="M 333.3,263 H 370.5 v 17 H 333.3 V 276.6 c 0,-6.8 -5.44,5.44 -5.44,-5.1 s 5.44,1.7 5.44,-5.1 z" fill="#b32d5e"/>
<text x="340.2" y="275.1" class="l" font-size="9.5">“</text>
<rect x="346.6" y="266.8" width="9" height="10.2" rx="2.5" fill="#fff" fill-opacity=".6"/>
<text x="360.2" y="275.1" class="l" font-size="9.5">”</text>
<path d="M 9.25,290.94 a 5.44,5.44 0 0,1 5.44,-5.44 H 131.75 v 18.2 H 55.4 l -4.08,2.72 -2.04,0 -4.08,-2.72 H 40.44 a 5.44,5.44 0 0,0 -5.44,5.44 v 426.92 a 5.44,5.44 0 0,0 5.44,5.44 H 131.75 v 7.6 H 14.69 a 5.44,5.44 0 0,1 -5.44,-5.44 z" fill="#735c22" transform="translate(.7 .7)"/>
<path d="M 9.25,290.94 a 5.44,5.44 0 0,1 5.44,-5.44 H 131.75 v 18.2 H 55.4 l -4.08,2.72 -2.04,0 -4.08,-2.72 H 40.44 a 5.44,5.44 0 0,0 -5.44,5.44 v 426.92 a 5.44,5.44 0 0,0 5.44,5.44 H 131.75 v 7.6 H 14.69 a 5.44,5.44 0 0,1 -5.44,-5.44 z" fill="#c9b275" transform="translate(-.35 -.35)"/>
<path d="M 9.25,290.94 a 5.44,5.44 0 0,1 5.44,-5.44 H 131.75 v 18.2 H 55.4 l -4.08,2.72 -2.04,0 -4.08,-2.72 H 40.44 a 5.44,5.44 0 0,0 -5.44,5.44 v 426.92 a 5.44,5.44 0 0,0 5.44,5.44 H 131.75 v 7.6 H 14.69 a 5.44,5.44 0 0,1 -5.44,-5.44 z" fill="#b18e35"/>
<text x="16.25" y="298" class="l">when</text>
<rect x="46.06" y="289.6" width="46.47" height="10.6" rx="2.7" fill="#fff" fill-opacity=".6"/>
<text x="49.66" y="298" class="f">Clock1</text>
<path d="M 84.02,293.5 h 4.2 l -2.1,2.7 z" fill="#b18e35"/>
<text x="95.82" y="298" class="l">.Timer</text>
<text x="16.25" y="315.2" class="l">do</text>
<path d="M 35,309.14 a 5.44,5.44 0 0,1 5.44,-5.44 H 45.2 l 4.08,2.72 2.04,0 4.08,-2.72 H 139.3 v 3.4 c 0,6.8 -5.44,-5.44 -5.44,5.1 s 5.44,-1.7 5.44,5.1 v 3.4 H 55.4 l -4.08,2.72 -2.04,0 -4.08,-2.72 H 35 z" fill="#873d1d" transform="translate(.7 .7)"/>
<path d="M 35,309.14 a 5.44,5.44 0 0,1 5.44,-5.44 H 45.2 l 4.08,2.72 2.04,0 4.08,-2.72 H 139.3 v 3.4 c 0,6.8 -5.44,-5.44 -5.44,5.1 s 5.44,-1.7 5.44,5.1 v 3.4 H 55.4 l -4.08,2.72 -2.04,0 -4.08,-2.72 H 35 z" fill="#df9270" transform="translate(-.35 -.35)"/>
<path d="M 35,309.14 a 5.44,5.44 0 0,1 5.44,-5.44 H 45.2 l 4.08,2.72 2.04,0 4.08,-2.72 H 139.3 v 3.4 c 0,6.8 -5.44,-5.44 -5.44,5.1 s 5.44,-1.7 5.44,5.1 v 3.4 H 55.4 l -4.08,2.72 -2.04,0 -4.08,-2.72 H 35 z" fill="#d05f2d"/>
<text x="41.8" y="315.6" class="l">set</text>
<rect x="58.74" y="307.2" width="55.93" height="10.6" rx="2.7" fill="#fff" fill-opacity=".6"/>
<text x="62.34" y="315.6" class="f">global x2</text>
<path d="M 106.17,311.1 h 4.2 l -2.1,2.7 z" fill="#d05f2d"/>
<text x="118.07" y="315.6" class="l">to</text>
<path d="M 139.5,303.7 H 223.4 v 17 H 139.5 V 317.3 c 0,-6.8 -5.44,5.44 -5.44,-5.1 s 5.44,1.7 5.44,-5.1 z" fill="#873d1d" transform="translate(.7 .7)"/>
<path d="M 139.5,303.7 H 223.4 v 17 H 139.5 V 317.3 c 0,-6.8 -5.44,5.44 -5.44,-5.1 s 5.44,1.7 5.44,-5.1 z" fill="#df9270" transform="translate(-.35 -.35)"/>
<path d="M 139.5,303.7 H 223.4 v 17 H 139.5 V 317.3 c 0,-6.8 -5.44,5.44 -5.44,-5.1 s 5.44,1.7 5.44,-5.1 z" fill="#d05f2d"/>
<text x="146.3" y="315.6" class="l">get</text>
<rect x="163.8" y="307.2" width="55.93" height="10.6" rx="2.7" fill="#fff" fill-opacity=".6"/>
<text x="167.4" y="315.6" class="f">global x1</text>
<path d="M 211.23,311.1 h 4.2 l -2.1,2.7 z" fill="#d05f2d"/>
<path d="M 35,321.3 H 45.2 l 4.08,2.72 2.04,0 4.08,-2.72 H 139.3 v 3.4 c 0,6.8 -5.44,-5.44 -5.44,5.1 s 5.44,-1.7 5.44,5.1 v 11.7 H 55.4 l -4.08,2.72 -2.04,0 -4.08,-2.72 H 35 z" fill="#873d1d" transform="translate(.7 .7)"/>
<path d="M 35,321.3 H 45.2 l 4.08,2.72 2.04,0 4.08,-2.72 H 139.3 v 3.4 c 0,6.8 -5.44,-5.44 -5.44,5.1 s 5.44,-1.7 5.44,5.1 v 11.7 H 55.4 l -4.08,2.72 -2.04,0 -4.08,-2.72 H 35 z" fill="#df9270" transform="translate(-.35 -.35)"/>
<path d="M 35,321.3 H 45.2 l 4.08,2.72 2.04,0 4.08,-2.72 H 139.3 v 3.4 c 0,6.8 -5.44,-5.44 -5.44,5.1 s 5.44,-1.7 5.44,5.1 v 11.7 H 55.4 l -4.08,2.72 -2.04,0 -4.08,-2.72 H 35 z" fill="#d05f2d"/>
<text x="41.8" y="333.2" class="l">set</text>
<rect x="58.74" y="324.8" width="55.93" height="10.6" rx="2.7" fill="#fff" fill-opacity=".6"/>
<text x="62.34" y="333.2" class="f">global x1</text>
<path d="M 106.17,328.7 h 4.2 l -2.1,2.7 z" fill="#d05f2d"/>
<text x="118.07" y="333.2" class="l">to</text>
<path d="M 139.5,321.3 H 305.8 v 25.1 H 139.5 V 334.9 c 0,-6.8 -5.44,5.44 -5.44,-5.1 s 5.44,1.7 5.44,-5.1 z" fill="#284975" transform="translate(.7 .7)"/>
<path d="M 139.5,321.3 H 305.8 v 25.1 H 139.5 V 334.9 c 0,-6.8 -5.44,5.44 -5.44,-5.1 s 5.44,1.7 5.44,-5.1 z" fill="#7c9ecc" transform="translate(-.35 -.35)"/>
<path d="M 139.5,321.3 H 305.8 v 25.1 H 139.5 V 334.9 c 0,-6.8 -5.44,5.44 -5.44,-5.1 s 5.44,1.7 5.44,-5.1 z" fill="#3f71b5"/>
<path d="M 169.6,325.6 H 253.8 V 343.2 H 169.6 V 339.2 c 0,-6.8 -5.44,5.44 -5.44,-5.1 s 5.44,1.7 5.44,-5.1 z" fill="#2c4f7e" transform="translate(-.6 -.6)"/>
<path d="M 169.6,325.6 H 253.8 V 343.2 H 169.6 V 339.2 c 0,-6.8 -5.44,5.44 -5.44,-5.1 s 5.44,1.7 5.44,-5.1 z" fill="#789bcb" transform="translate(.8 .8)"/>
<path d="M 278,325.6 H 298.8 V 343.2 H 278 V 339.2 c 0,-6.8 -5.44,5.44 -5.44,-5.1 s 5.44,1.7 5.44,-5.1 z" fill="#2c4f7e" transform="translate(-.6 -.6)"/>
<path d="M 278,325.6 H 298.8 V 343.2 H 278 V 339.2 c 0,-6.8 -5.44,5.44 -5.44,-5.1 s 5.44,1.7 5.44,-5.1 z" fill="#789bcb" transform="translate(.8 .8)"/>
<rect x="145.55" y="324.25" width="11.7" height="11.5" rx="3" fill="none" stroke="#fff" stroke-opacity=".4" stroke-width=".7"/>
<rect x="146.6" y="325.2" width="9.6" height="9.6" rx="1.4" fill="#2c2ad8"/>
<polygon points="151.4,326.9 152.55,328.31 154.34,328.6 153.7,330.3 154.34,332 152.55,332.29 151.4,333.7 150.25,332.29 148.46,332 149.1,330.3 148.46,328.6 150.25,328.31" fill="#f6f4ea" stroke="#f6f4ea" stroke-width=".5" stroke-linejoin="round"/>
<circle cx="151.4" cy="330.3" r="1.45" fill="#2c2ad8"/>
<path d="M 169.6,325.6 H 253.8 v 17 H 169.6 V 339.2 c 0,-6.8 -5.44,5.44 -5.44,-5.1 s 5.44,1.7 5.44,-5.1 z" fill="#873d1d" transform="translate(.7 .7)"/>
<path d="M 169.6,325.6 H 253.8 v 17 H 169.6 V 339.2 c 0,-6.8 -5.44,5.44 -5.44,-5.1 s 5.44,1.7 5.44,-5.1 z" fill="#df9270" transform="translate(-.35 -.35)"/>
<path d="M 169.6,325.6 H 253.8 v 17 H 169.6 V 339.2 c 0,-6.8 -5.44,5.44 -5.44,-5.1 s 5.44,1.7 5.44,-5.1 z" fill="#d05f2d"/>
<text x="176.4" y="337.5" class="l">get</text>
<rect x="193.9" y="329.1" width="55.93" height="10.6" rx="2.7" fill="#fff" fill-opacity=".6"/>
<text x="197.5" y="337.5" class="f">global x1</text>
<path d="M 241.33,333 h 4.2 l -2.1,2.7 z" fill="#d05f2d"/>
<text x="260.4" y="337.5" class="l">+</text>
<path d="M 278,325.6 H 298.8 v 17 H 278 V 339.2 c 0,-6.8 -5.44,5.44 -5.44,-5.1 s 5.44,1.7 5.44,-5.1 z" fill="#284975" transform="translate(.7 .7)"/>
<path d="M 278,325.6 H 298.8 v 17 H 278 V 339.2 c 0,-6.8 -5.44,5.44 -5.44,-5.1 s 5.44,1.7 5.44,-5.1 z" fill="#7c9ecc" transform="translate(-.35 -.35)"/>
<path d="M 278,325.6 H 298.8 v 17 H 278 V 339.2 c 0,-6.8 -5.44,5.44 -5.44,-5.1 s 5.44,1.7 5.44,-5.1 z" fill="#3f71b5"/>
<rect x="281" y="329.2" width="13.26" height="10.6" rx="2.7" fill="#fff" fill-opacity=".6"/>
<text x="284.85" y="337.6" class="f">1</text>
<path d="M 35,347.2 H 45.2 l 4.08,2.72 2.04,0 4.08,-2.72 H 180 v 17.3 v 3.4 c 0,6.8 -5.44,-5.44 -5.44,5.1 s 5.44,-1.7 5.44,5.1 v 3.9 v 3.4 c 0,6.8 -5.44,-5.44 -5.44,5.1 s 5.44,-1.7 5.44,5.1 v 3.9 v 3.4 c 0,6.8 -5.44,-5.44 -5.44,5.1 s 5.44,-1.7 5.44,5.1 v 3.9 v 3.4 c 0,6.8 -5.44,-5.44 -5.44,5.1 s 5.44,-1.7 5.44,5.1 v 3.3 H 55.4 l -4.08,2.72 -2.04,0 -4.08,-2.72 H 35 z" fill="#503556" transform="translate(.7 .7)"/>
<path d="M 35,347.2 H 45.2 l 4.08,2.72 2.04,0 4.08,-2.72 H 180 v 17.3 v 3.4 c 0,6.8 -5.44,-5.44 -5.44,5.1 s 5.44,-1.7 5.44,5.1 v 3.9 v 3.4 c 0,6.8 -5.44,-5.44 -5.44,5.1 s 5.44,-1.7 5.44,5.1 v 3.9 v 3.4 c 0,6.8 -5.44,-5.44 -5.44,5.1 s 5.44,-1.7 5.44,5.1 v 3.9 v 3.4 c 0,6.8 -5.44,-5.44 -5.44,5.1 s 5.44,-1.7 5.44,5.1 v 3.3 H 55.4 l -4.08,2.72 -2.04,0 -4.08,-2.72 H 35 z" fill="#a58aac" transform="translate(-.35 -.35)"/>
<path d="M 35,347.2 H 45.2 l 4.08,2.72 2.04,0 4.08,-2.72 H 180 v 17.3 v 3.4 c 0,6.8 -5.44,-5.44 -5.44,5.1 s 5.44,-1.7 5.44,5.1 v 3.9 v 3.4 c 0,6.8 -5.44,-5.44 -5.44,5.1 s 5.44,-1.7 5.44,5.1 v 3.9 v 3.4 c 0,6.8 -5.44,-5.44 -5.44,5.1 s 5.44,-1.7 5.44,5.1 v 3.9 v 3.4 c 0,6.8 -5.44,-5.44 -5.44,5.1 s 5.44,-1.7 5.44,5.1 v 3.3 H 55.4 l -4.08,2.72 -2.04,0 -4.08,-2.72 H 35 z" fill="#7c5385"/>
<text x="41.8" y="359.1" class="l">call</text>
<rect x="62.71" y="350.7" width="55.37" height="10.6" rx="2.7" fill="#fff" fill-opacity=".6"/>
<text x="66.31" y="359.1" class="f">Canvas1</text>
<path d="M 109.57,354.6 h 4.2 l -2.1,2.7 z" fill="#7c5385"/>
<text x="121.37" y="359.1" class="l">.DrawLine</text>
<text x="167.2" y="376.4" class="l" text-anchor="end">x1</text>
<text x="167.2" y="393.9" class="l" text-anchor="end">y1</text>
<text x="167.2" y="411.4" class="l" text-anchor="end">x2</text>
<text x="167.2" y="428.9" class="l" text-anchor="end">y2</text>
<path d="M 180.3,364.5 H 264.5 v 16.7 H 180.3 V 378.1 c 0,-6.8 -5.44,5.44 -5.44,-5.1 s 5.44,1.7 5.44,-5.1 z" fill="#873d1d" transform="translate(.7 .7)"/>
<path d="M 180.3,364.5 H 264.5 v 16.7 H 180.3 V 378.1 c 0,-6.8 -5.44,5.44 -5.44,-5.1 s 5.44,1.7 5.44,-5.1 z" fill="#df9270" transform="translate(-.35 -.35)"/>
<path d="M 180.3,364.5 H 264.5 v 16.7 H 180.3 V 378.1 c 0,-6.8 -5.44,5.44 -5.44,-5.1 s 5.44,1.7 5.44,-5.1 z" fill="#d05f2d"/>
<text x="187.1" y="376.4" class="l">get</text>
<rect x="204.6" y="368" width="55.93" height="10.6" rx="2.7" fill="#fff" fill-opacity=".6"/>
<text x="208.2" y="376.4" class="f">global x1</text>
<path d="M 252.03,371.9 h 4.2 l -2.1,2.7 z" fill="#d05f2d"/>
<path d="M 180.3,382 H 210.8 v 16.7 H 180.3 V 395.6 c 0,-6.8 -5.44,5.44 -5.44,-5.1 s 5.44,1.7 5.44,-5.1 z" fill="#284975" transform="translate(.7 .7)"/>
<path d="M 180.3,382 H 210.8 v 16.7 H 180.3 V 395.6 c 0,-6.8 -5.44,5.44 -5.44,-5.1 s 5.44,1.7 5.44,-5.1 z" fill="#7c9ecc" transform="translate(-.35 -.35)"/>
<path d="M 180.3,382 H 210.8 v 16.7 H 180.3 V 395.6 c 0,-6.8 -5.44,5.44 -5.44,-5.1 s 5.44,1.7 5.44,-5.1 z" fill="#3f71b5"/>
<rect x="183.3" y="385.5" width="24.39" height="10.6" rx="2.7" fill="#fff" fill-opacity=".6"/>
<text x="187.15" y="393.9" class="f">100</text>
<path d="M 180.3,399.5 H 264.5 v 16.7 H 180.3 V 413.1 c 0,-6.8 -5.44,5.44 -5.44,-5.1 s 5.44,1.7 5.44,-5.1 z" fill="#873d1d" transform="translate(.7 .7)"/>
<path d="M 180.3,399.5 H 264.5 v 16.7 H 180.3 V 413.1 c 0,-6.8 -5.44,5.44 -5.44,-5.1 s 5.44,1.7 5.44,-5.1 z" fill="#df9270" transform="translate(-.35 -.35)"/>
<path d="M 180.3,399.5 H 264.5 v 16.7 H 180.3 V 413.1 c 0,-6.8 -5.44,5.44 -5.44,-5.1 s 5.44,1.7 5.44,-5.1 z" fill="#d05f2d"/>
<text x="187.1" y="411.4" class="l">get</text>
<rect x="204.6" y="403" width="55.93" height="10.6" rx="2.7" fill="#fff" fill-opacity=".6"/>
<text x="208.2" y="411.4" class="f">global x2</text>
<path d="M 252.03,406.9 h 4.2 l -2.1,2.7 z" fill="#d05f2d"/>
<path d="M 180.3,417 H 210.8 v 16.7 H 180.3 V 430.6 c 0,-6.8 -5.44,5.44 -5.44,-5.1 s 5.44,1.7 5.44,-5.1 z" fill="#284975" transform="translate(.7 .7)"/>
<path d="M 180.3,417 H 210.8 v 16.7 H 180.3 V 430.6 c 0,-6.8 -5.44,5.44 -5.44,-5.1 s 5.44,1.7 5.44,-5.1 z" fill="#7c9ecc" transform="translate(-.35 -.35)"/>
<path d="M 180.3,417 H 210.8 v 16.7 H 180.3 V 430.6 c 0,-6.8 -5.44,5.44 -5.44,-5.1 s 5.44,1.7 5.44,-5.1 z" fill="#3f71b5"/>
<rect x="183.3" y="420.5" width="24.39" height="10.6" rx="2.7" fill="#fff" fill-opacity=".6"/>
<text x="187.15" y="428.9" class="f">100</text>
<path d="M 35,434.7 H 45.2 l 4.08,2.72 2.04,0 4.08,-2.72 H 89.3 v 3.4 c 0,6.8 -5.44,-5.44 -5.44,5.1 s 5.44,-1.7 5.44,5.1 v 12.3 H 89.65 l -4.08,2.72 -2.04,0 -4.08,-2.72 H 74.69 a 5.44,5.44 0 0,0 -5.44,5.44 v 25.92 a 5.44,5.44 0 0,0 5.44,5.44 H 89.3 v 6.9 H 55.4 l -4.08,2.72 -2.04,0 -4.08,-2.72 H 35 z" fill="#735c22" transform="translate(.7 .7)"/>
<path d="M 35,434.7 H 45.2 l 4.08,2.72 2.04,0 4.08,-2.72 H 89.3 v 3.4 c 0,6.8 -5.44,-5.44 -5.44,5.1 s 5.44,-1.7 5.44,5.1 v 12.3 H 89.65 l -4.08,2.72 -2.04,0 -4.08,-2.72 H 74.69 a 5.44,5.44 0 0,0 -5.44,5.44 v 25.92 a 5.44,5.44 0 0,0 5.44,5.44 H 89.3 v 6.9 H 55.4 l -4.08,2.72 -2.04,0 -4.08,-2.72 H 35 z" fill="#c9b275" transform="translate(-.35 -.35)"/>
<path d="M 35,434.7 H 45.2 l 4.08,2.72 2.04,0 4.08,-2.72 H 89.3 v 3.4 c 0,6.8 -5.44,-5.44 -5.44,5.1 s 5.44,-1.7 5.44,5.1 v 12.3 H 89.65 l -4.08,2.72 -2.04,0 -4.08,-2.72 H 74.69 a 5.44,5.44 0 0,0 -5.44,5.44 v 25.92 a 5.44,5.44 0 0,0 5.44,5.44 H 89.3 v 6.9 H 55.4 l -4.08,2.72 -2.04,0 -4.08,-2.72 H 35 z" fill="#b18e35"/>
<rect x="41.4" y="438.2" width="11.7" height="11.5" rx="3" fill="none" stroke="#fff" stroke-opacity=".4" stroke-width=".7"/>
<rect x="42.45" y="439.15" width="9.6" height="9.6" rx="1.4" fill="#2c2ad8"/>
<polygon points="47.25,440.85 48.4,442.26 50.19,442.55 49.55,444.25 50.19,445.95 48.4,446.24 47.25,447.65 46.1,446.24 44.31,445.95 44.95,444.25 44.31,442.55 46.1,442.26" fill="#f6f4ea" stroke="#f6f4ea" stroke-width=".5" stroke-linejoin="round"/>
<circle cx="47.25" cy="444.25" r="1.45" fill="#2c2ad8"/>
<text x="60.3" y="446.8" class="l">if</text>
<text x="41.6" y="471.2" class="l">then</text>
<path d="M 89.5,434.7 H 339.3 v 25.1 H 89.5 V 448.3 c 0,-6.8 -5.44,5.44 -5.44,-5.1 s 5.44,1.7 5.44,-5.1 z" fill="#284975" transform="translate(.7 .7)"/>
<path d="M 89.5,434.7 H 339.3 v 25.1 H 89.5 V 448.3 c 0,-6.8 -5.44,5.44 -5.44,-5.1 s 5.44,1.7 5.44,-5.1 z" fill="#7c9ecc" transform="translate(-.35 -.35)"/>
<path d="M 89.5,434.7 H 339.3 v 25.1 H 89.5 V 448.3 c 0,-6.8 -5.44,5.44 -5.44,-5.1 s 5.44,1.7 5.44,-5.1 z" fill="#3f71b5"/>
<path d="M 101.2,439.2 H 185.2 V 456.8 H 101.2 V 452.8 c 0,-6.8 -5.44,5.44 -5.44,-5.1 s 5.44,1.7 5.44,-5.1 z" fill="#2c4f7e" transform="translate(-.6 -.6)"/>
<path d="M 101.2,439.2 H 185.2 V 456.8 H 101.2 V 452.8 c 0,-6.8 -5.44,5.44 -5.44,-5.1 s 5.44,1.7 5.44,-5.1 z" fill="#789bcb" transform="translate(.8 .8)"/>
<path d="M 218.2,439.2 H 332.6 V 456.8 H 218.2 V 452.8 c 0,-6.8 -5.44,5.44 -5.44,-5.1 s 5.44,1.7 5.44,-5.1 z" fill="#2c4f7e" transform="translate(-.6 -.6)"/>
<path d="M 218.2,439.2 H 332.6 V 456.8 H 218.2 V 452.8 c 0,-6.8 -5.44,5.44 -5.44,-5.1 s 5.44,1.7 5.44,-5.1 z" fill="#789bcb" transform="translate(.8 .8)"/>
<path d="M 101.2,439.2 H 185.2 v 17 H 101.2 V 452.8 c 0,-6.8 -5.44,5.44 -5.44,-5.1 s 5.44,1.7 5.44,-5.1 z" fill="#873d1d" transform="translate(.7 .7)"/>
<path d="M 101.2,439.2 H 185.2 v 17 H 101.2 V 452.8 c 0,-6.8 -5.44,5.44 -5.44,-5.1 s 5.44,1.7 5.44,-5.1 z" fill="#df9270" transform="translate(-.35 -.35)"/>
<path d="M 101.2,439.2 H 185.2 v 17 H 101.2 V 452.8 c 0,-6.8 -5.44,5.44 -5.44,-5.1 s 5.44,1.7 5.44,-5.1 z" fill="#d05f2d"/>
<text x="108" y="451.1" class="l">get</text>
<rect x="125.5" y="442.7" width="55.93" height="10.6" rx="2.7" fill="#fff" fill-opacity=".6"/>
<text x="129.1" y="451.1" class="f">global x1</text>
<path d="M 172.93,446.6 h 4.2 l -2.1,2.7 z" fill="#d05f2d"/>
<rect x="188.8" y="442.7" width="21.39" height="10.6" rx="2.7" fill="#fff" fill-opacity=".6"/>
<text x="192.4" y="451.1" class="f">≥</text>
<path d="M 201.69,446.6 h 4.2 l -2.1,2.7 z" fill="#3f71b5"/>
<path d="M 218.2,439.2 H 332.6 v 17 H 218.2 V 452.8 c 0,-6.8 -5.44,5.44 -5.44,-5.1 s 5.44,1.7 5.44,-5.1 z" fill="#2b6348" transform="translate(.7 .7)"/>
<path d="M 218.2,439.2 H 332.6 v 17 H 218.2 V 452.8 c 0,-6.8 -5.44,5.44 -5.44,-5.1 s 5.44,1.7 5.44,-5.1 z" fill="#7fb99d" transform="translate(-.35 -.35)"/>
<path d="M 218.2,439.2 H 332.6 v 17 H 218.2 V 452.8 c 0,-6.8 -5.44,5.44 -5.44,-5.1 s 5.44,1.7 5.44,-5.1 z" fill="#439970"/>
<rect x="221.6" y="442.7" width="55.37" height="10.6" rx="2.7" fill="#fff" fill-opacity=".6"/>
<text x="225.2" y="451.1" class="f">Canvas1</text>
<path d="M 268.47,446.6 h 4.2 l -2.1,2.7 z" fill="#439970"/>
<text x="280.67" y="451.1" class="l">.</text>
<rect x="287.15" y="442.7" width="41.46" height="10.6" rx="2.7" fill="#fff" fill-opacity=".6"/>
<text x="290.75" y="451.1" class="f">Width</text>
<path d="M 320.11,446.6 h 4.2 l -2.1,2.7 z" fill="#439970"/>
<path d="M 69.25,466.04 a 5.44,5.44 0 0,1 5.44,-5.44 H 79.45 l 4.08,2.72 2.04,0 4.08,-2.72 H 173.3 v 3.4 c 0,6.8 -5.44,-5.44 -5.44,5.1 s 5.44,-1.7 5.44,5.1 v 3.4 H 89.65 l -4.08,2.72 -2.04,0 -4.08,-2.72 H 69.25 z" fill="#873d1d" transform="translate(.7 .7)"/>
<path d="M 69.25,466.04 a 5.44,5.44 0 0,1 5.44,-5.44 H 79.45 l 4.08,2.72 2.04,0 4.08,-2.72 H 173.3 v 3.4 c 0,6.8 -5.44,-5.44 -5.44,5.1 s 5.44,-1.7 5.44,5.1 v 3.4 H 89.65 l -4.08,2.72 -2.04,0 -4.08,-2.72 H 69.25 z" fill="#df9270" transform="translate(-.35 -.35)"/>
<path d="M 69.25,466.04 a 5.44,5.44 0 0,1 5.44,-5.44 H 79.45 l 4.08,2.72 2.04,0 4.08,-2.72 H 173.3 v 3.4 c 0,6.8 -5.44,-5.44 -5.44,5.1 s 5.44,-1.7 5.44,5.1 v 3.4 H 89.65 l -4.08,2.72 -2.04,0 -4.08,-2.72 H 69.25 z" fill="#d05f2d"/>
<text x="76.05" y="472.5" class="l">set</text>
<rect x="92.99" y="464.1" width="55.93" height="10.6" rx="2.7" fill="#fff" fill-opacity=".6"/>
<text x="96.59" y="472.5" class="f">global x1</text>
<path d="M 140.42,468 h 4.2 l -2.1,2.7 z" fill="#d05f2d"/>
<text x="152.32" y="472.5" class="l">to</text>
<path d="M 173.6,460.6 H 193.3 v 17 H 173.6 V 474.2 c 0,-6.8 -5.44,5.44 -5.44,-5.1 s 5.44,1.7 5.44,-5.1 z" fill="#284975" transform="translate(.7 .7)"/>
<path d="M 173.6,460.6 H 193.3 v 17 H 173.6 V 474.2 c 0,-6.8 -5.44,5.44 -5.44,-5.1 s 5.44,1.7 5.44,-5.1 z" fill="#7c9ecc" transform="translate(-.35 -.35)"/>
<path d="M 173.6,460.6 H 193.3 v 17 H 173.6 V 474.2 c 0,-6.8 -5.44,5.44 -5.44,-5.1 s 5.44,1.7 5.44,-5.1 z" fill="#3f71b5"/>
<rect x="176.6" y="464.2" width="13.26" height="10.6" rx="2.7" fill="#fff" fill-opacity=".6"/>
<text x="180.45" y="472.6" class="f">0</text>
<path d="M 69.25,478.2 H 79.45 l 4.08,2.72 2.04,0 4.08,-2.72 H 190.5 v 17 H 89.65 l -4.08,2.72 -2.04,0 -4.08,-2.72 H 74.69 a 5.44,5.44 0 0,1 -5.44,-5.44 z" fill="#503556" transform="translate(.7 .7)"/>
<path d="M 69.25,478.2 H 79.45 l 4.08,2.72 2.04,0 4.08,-2.72 H 190.5 v 17 H 89.65 l -4.08,2.72 -2.04,0 -4.08,-2.72 H 74.69 a 5.44,5.44 0 0,1 -5.44,-5.44 z" fill="#a58aac" transform="translate(-.35 -.35)"/>
<path d="M 69.25,478.2 H 79.45 l 4.08,2.72 2.04,0 4.08,-2.72 H 190.5 v 17 H 89.65 l -4.08,2.72 -2.04,0 -4.08,-2.72 H 74.69 a 5.44,5.44 0 0,1 -5.44,-5.44 z" fill="#7c5385"/>
<text x="76.05" y="490.1" class="l">call</text>
<rect x="96.96" y="481.7" width="55.37" height="10.6" rx="2.7" fill="#fff" fill-opacity=".6"/>
<text x="100.56" y="490.1" class="f">Canvas1</text>
<path d="M 143.82,485.6 h 4.2 l -2.1,2.7 z" fill="#7c5385"/>
<text x="155.62" y="490.1" class="l">.Clear</text>
<path d="M 35,504.9 H 45.2 l 4.08,2.72 2.04,0 4.08,-2.72 H 89.3 v 3.4 c 0,6.8 -5.44,-5.44 -5.44,5.1 s 5.44,-1.7 5.44,5.1 v 12 H 89.65 l -4.08,2.72 -2.04,0 -4.08,-2.72 H 74.69 a 5.44,5.44 0 0,0 -5.44,5.44 v 191.92 a 5.44,5.44 0 0,0 5.44,5.44 H 89.3 v 7.1 H 55.4 l -4.08,2.72 -2.04,0 -4.08,-2.72 H 40.44 a 5.44,5.44 0 0,1 -5.44,-5.44 z" fill="#735c22" transform="translate(.7 .7)"/>
<path d="M 35,504.9 H 45.2 l 4.08,2.72 2.04,0 4.08,-2.72 H 89.3 v 3.4 c 0,6.8 -5.44,-5.44 -5.44,5.1 s 5.44,-1.7 5.44,5.1 v 12 H 89.65 l -4.08,2.72 -2.04,0 -4.08,-2.72 H 74.69 a 5.44,5.44 0 0,0 -5.44,5.44 v 191.92 a 5.44,5.44 0 0,0 5.44,5.44 H 89.3 v 7.1 H 55.4 l -4.08,2.72 -2.04,0 -4.08,-2.72 H 40.44 a 5.44,5.44 0 0,1 -5.44,-5.44 z" fill="#c9b275" transform="translate(-.35 -.35)"/>
<path d="M 35,504.9 H 45.2 l 4.08,2.72 2.04,0 4.08,-2.72 H 89.3 v 3.4 c 0,6.8 -5.44,-5.44 -5.44,5.1 s 5.44,-1.7 5.44,5.1 v 12 H 89.65 l -4.08,2.72 -2.04,0 -4.08,-2.72 H 74.69 a 5.44,5.44 0 0,0 -5.44,5.44 v 191.92 a 5.44,5.44 0 0,0 5.44,5.44 H 89.3 v 7.1 H 55.4 l -4.08,2.72 -2.04,0 -4.08,-2.72 H 40.44 a 5.44,5.44 0 0,1 -5.44,-5.44 z" fill="#b18e35"/>
<rect x="41.4" y="508.4" width="11.7" height="11.5" rx="3" fill="none" stroke="#fff" stroke-opacity=".4" stroke-width=".7"/>
<rect x="42.45" y="509.35" width="9.6" height="9.6" rx="1.4" fill="#2c2ad8"/>
<polygon points="47.25,511.05 48.4,512.46 50.19,512.75 49.55,514.45 50.19,516.15 48.4,516.44 47.25,517.85 46.1,516.44 44.31,516.15 44.95,514.45 44.31,512.75 46.1,512.46" fill="#f6f4ea" stroke="#f6f4ea" stroke-width=".5" stroke-linejoin="round"/>
<circle cx="47.25" cy="514.45" r="1.45" fill="#2c2ad8"/>
<text x="60.3" y="517" class="l">if</text>
<text x="41.6" y="541.1" class="l">then</text>
<path d="M 89.5,504.7 H 411.3 v 24.9 H 89.5 V 518.3 c 0,-6.8 -5.44,5.44 -5.44,-5.1 s 5.44,1.7 5.44,-5.1 z" fill="#284975" transform="translate(.7 .7)"/>
<path d="M 89.5,504.7 H 411.3 v 24.9 H 89.5 V 518.3 c 0,-6.8 -5.44,5.44 -5.44,-5.1 s 5.44,1.7 5.44,-5.1 z" fill="#7c9ecc" transform="translate(-.35 -.35)"/>
<path d="M 89.5,504.7 H 411.3 v 24.9 H 89.5 V 518.3 c 0,-6.8 -5.44,5.44 -5.44,-5.1 s 5.44,1.7 5.44,-5.1 z" fill="#3f71b5"/>
<path d="M 101.2,509 H 350.5 V 526.6 H 101.2 V 522.6 c 0,-6.8 -5.44,5.44 -5.44,-5.1 s 5.44,1.7 5.44,-5.1 z" fill="#2c4f7e" transform="translate(-.6 -.6)"/>
<path d="M 101.2,509 H 350.5 V 526.6 H 101.2 V 522.6 c 0,-6.8 -5.44,5.44 -5.44,-5.1 s 5.44,1.7 5.44,-5.1 z" fill="#789bcb" transform="translate(.8 .8)"/>
<path d="M 383.8,509 H 404.5 V 526.6 H 383.8 V 522.6 c 0,-6.8 -5.44,5.44 -5.44,-5.1 s 5.44,1.7 5.44,-5.1 z" fill="#2c4f7e" transform="translate(-.6 -.6)"/>
<path d="M 383.8,509 H 404.5 V 526.6 H 383.8 V 522.6 c 0,-6.8 -5.44,5.44 -5.44,-5.1 s 5.44,1.7 5.44,-5.1 z" fill="#789bcb" transform="translate(.8 .8)"/>
<path d="M 101.2,509 H 350.5 v 17 H 101.2 V 522.6 c 0,-6.8 -5.44,5.44 -5.44,-5.1 s 5.44,1.7 5.44,-5.1 z" fill="#503556" transform="translate(.7 .7)"/>
<path d="M 101.2,509 H 350.5 v 17 H 101.2 V 522.6 c 0,-6.8 -5.44,5.44 -5.44,-5.1 s 5.44,1.7 5.44,-5.1 z" fill="#a58aac" transform="translate(-.35 -.35)"/>
<path d="M 101.2,509 H 350.5 v 17 H 101.2 V 522.6 c 0,-6.8 -5.44,5.44 -5.44,-5.1 s 5.44,1.7 5.44,-5.1 z" fill="#7c5385"/>
<text x="108" y="520.9" class="l">call</text>
<rect x="128.91" y="512.5" width="94.85" height="10.6" rx="2.7" fill="#fff" fill-opacity=".6"/>
<text x="132.51" y="520.9" class="f">ClienteBluetooth1</text>
<path d="M 215.25,516.4 h 4.2 l -2.1,2.7 z" fill="#7c5385"/>
<text x="227.05" y="520.9" class="l">.BytesAvailableToReceive</text>
<rect x="354.6" y="512.5" width="21.74" height="10.6" rx="2.7" fill="#fff" fill-opacity=".6"/>
<text x="358.2" y="520.9" class="f">&gt;</text>
<path d="M 367.84,516.4 h 4.2 l -2.1,2.7 z" fill="#3f71b5"/>
<path d="M 383.8,509 H 404.5 v 17 H 383.8 V 522.6 c 0,-6.8 -5.44,5.44 -5.44,-5.1 s 5.44,1.7 5.44,-5.1 z" fill="#284975" transform="translate(.7 .7)"/>
<path d="M 383.8,509 H 404.5 v 17 H 383.8 V 522.6 c 0,-6.8 -5.44,5.44 -5.44,-5.1 s 5.44,1.7 5.44,-5.1 z" fill="#7c9ecc" transform="translate(-.35 -.35)"/>
<path d="M 383.8,509 H 404.5 v 17 H 383.8 V 522.6 c 0,-6.8 -5.44,5.44 -5.44,-5.1 s 5.44,1.7 5.44,-5.1 z" fill="#3f71b5"/>
<rect x="386.8" y="512.6" width="13.26" height="10.6" rx="2.7" fill="#fff" fill-opacity=".6"/>
<text x="390.65" y="521" class="f">0</text>
<path d="M 69.25,535.94 a 5.44,5.44 0 0,1 5.44,-5.44 H 79.45 l 4.08,2.72 2.04,0 4.08,-2.72 H 204.3 v 3.4 c 0,6.8 -5.44,-5.44 -5.44,5.1 s 5.44,-1.7 5.44,5.1 v 3.9 v 16.9 H 89.65 l -4.08,2.72 -2.04,0 -4.08,-2.72 H 69.25 z" fill="#873d1d" transform="translate(.7 .7)"/>
<path d="M 69.25,535.94 a 5.44,5.44 0 0,1 5.44,-5.44 H 79.45 l 4.08,2.72 2.04,0 4.08,-2.72 H 204.3 v 3.4 c 0,6.8 -5.44,-5.44 -5.44,5.1 s 5.44,-1.7 5.44,5.1 v 3.9 v 16.9 H 89.65 l -4.08,2.72 -2.04,0 -4.08,-2.72 H 69.25 z" fill="#df9270" transform="translate(-.35 -.35)"/>
<path d="M 69.25,535.94 a 5.44,5.44 0 0,1 5.44,-5.44 H 79.45 l 4.08,2.72 2.04,0 4.08,-2.72 H 204.3 v 3.4 c 0,6.8 -5.44,-5.44 -5.44,5.1 s 5.44,-1.7 5.44,5.1 v 3.9 v 16.9 H 89.65 l -4.08,2.72 -2.04,0 -4.08,-2.72 H 69.25 z" fill="#d05f2d"/>
<text x="76.05" y="542.4" class="l">set</text>
<rect x="92.99" y="534" width="87.06" height="10.6" rx="2.7" fill="#fff" fill-opacity=".6"/>
<text x="96.59" y="542.4" class="f">global Received</text>
<path d="M 171.55,537.9 h 4.2 l -2.1,2.7 z" fill="#d05f2d"/>
<text x="183.45" y="542.4" class="l">to</text>
<path d="M 204.6,530.5 H 401.3 v 17 v 3.4 c 0,6.8 -5.44,-5.44 -5.44,5.1 s 5.44,-1.7 5.44,5.1 v 2.8 H 204.6 V 544.1 c 0,-6.8 -5.44,5.44 -5.44,-5.1 s 5.44,1.7 5.44,-5.1 z" fill="#503556" transform="translate(.7 .7)"/>
<path d="M 204.6,530.5 H 401.3 v 17 v 3.4 c 0,6.8 -5.44,-5.44 -5.44,5.1 s 5.44,-1.7 5.44,5.1 v 2.8 H 204.6 V 544.1 c 0,-6.8 -5.44,5.44 -5.44,-5.1 s 5.44,1.7 5.44,-5.1 z" fill="#a58aac" transform="translate(-.35 -.35)"/>
<path d="M 204.6,530.5 H 401.3 v 17 v 3.4 c 0,6.8 -5.44,-5.44 -5.44,5.1 s 5.44,-1.7 5.44,5.1 v 2.8 H 204.6 V 544.1 c 0,-6.8 -5.44,5.44 -5.44,-5.1 s 5.44,1.7 5.44,-5.1 z" fill="#7c5385"/>
<text x="211.4" y="542.4" class="l">call</text>
<rect x="232.31" y="534" width="94.85" height="10.6" rx="2.7" fill="#fff" fill-opacity=".6"/>
<text x="235.91" y="542.4" class="f">ClienteBluetooth1</text>
<path d="M 318.65,537.9 h 4.2 l -2.1,2.7 z" fill="#7c5385"/>
<text x="330.45" y="542.4" class="l">.ReceiveText</text>
<text x="388.6" y="559.4" class="l" text-anchor="end">numberOfBytes</text>
<path d="M 401.7,547.5 H 425.5 v 16.8 H 401.7 V 561.1 c 0,-6.8 -5.44,5.44 -5.44,-5.1 s 5.44,1.7 5.44,-5.1 z" fill="#284975" transform="translate(.7 .7)"/>
<path d="M 401.7,547.5 H 425.5 v 16.8 H 401.7 V 561.1 c 0,-6.8 -5.44,5.44 -5.44,-5.1 s 5.44,1.7 5.44,-5.1 z" fill="#7c9ecc" transform="translate(-.35 -.35)"/>
<path d="M 401.7,547.5 H 425.5 v 16.8 H 401.7 V 561.1 c 0,-6.8 -5.44,5.44 -5.44,-5.1 s 5.44,1.7 5.44,-5.1 z" fill="#3f71b5"/>
<rect x="404.7" y="551" width="16.59" height="10.6" rx="2.7" fill="#fff" fill-opacity=".6"/>
<text x="408.55" y="559.4" class="f">-1</text>
<path d="M 69.25,565.5 H 79.45 l 4.08,2.72 2.04,0 4.08,-2.72 H 224.3 v 3.4 c 0,6.8 -5.44,-5.44 -5.44,5.1 s 5.44,-1.7 5.44,5.1 v 3.4 H 89.65 l -4.08,2.72 -2.04,0 -4.08,-2.72 H 69.25 z" fill="#18422b" transform="translate(.7 .7)"/>
<path d="M 69.25,565.5 H 79.45 l 4.08,2.72 2.04,0 4.08,-2.72 H 224.3 v 3.4 c 0,6.8 -5.44,-5.44 -5.44,5.1 s 5.44,-1.7 5.44,5.1 v 3.4 H 89.65 l -4.08,2.72 -2.04,0 -4.08,-2.72 H 69.25 z" fill="#6b967f" transform="translate(-.35 -.35)"/>
<path d="M 69.25,565.5 H 79.45 l 4.08,2.72 2.04,0 4.08,-2.72 H 224.3 v 3.4 c 0,6.8 -5.44,-5.44 -5.44,5.1 s 5.44,-1.7 5.44,5.1 v 3.4 H 89.65 l -4.08,2.72 -2.04,0 -4.08,-2.72 H 69.25 z" fill="#266643"/>
<text x="76.05" y="577.4" class="l">set</text>
<rect x="95.29" y="569" width="58.16" height="10.6" rx="2.7" fill="#fff" fill-opacity=".6"/>
<text x="98.89" y="577.4" class="f">Etiqueta1</text>
<path d="M 144.95,572.9 h 4.2 l -2.1,2.7 z" fill="#266643"/>
<text x="157.15" y="577.4" class="l">.</text>
<rect x="163.62" y="569" width="34.24" height="10.6" rx="2.7" fill="#fff" fill-opacity=".6"/>
<text x="167.22" y="577.4" class="f">Text</text>
<path d="M 189.36,572.9 h 4.2 l -2.1,2.7 z" fill="#266643"/>
<text x="203.86" y="577.4" class="l">to</text>
<path d="M 224.6,565.3 H 340.5 v 16.8 H 224.6 V 578.9 c 0,-6.8 -5.44,5.44 -5.44,-5.1 s 5.44,1.7 5.44,-5.1 z" fill="#873d1d" transform="translate(.7 .7)"/>
<path d="M 224.6,565.3 H 340.5 v 16.8 H 224.6 V 578.9 c 0,-6.8 -5.44,5.44 -5.44,-5.1 s 5.44,1.7 5.44,-5.1 z" fill="#df9270" transform="translate(-.35 -.35)"/>
<path d="M 224.6,565.3 H 340.5 v 16.8 H 224.6 V 578.9 c 0,-6.8 -5.44,5.44 -5.44,-5.1 s 5.44,1.7 5.44,-5.1 z" fill="#d05f2d"/>
<text x="231.4" y="577.2" class="l">get</text>
<rect x="248.9" y="568.8" width="87.06" height="10.6" rx="2.7" fill="#fff" fill-opacity=".6"/>
<text x="252.5" y="577.2" class="f">global Received</text>
<path d="M 327.46,572.7 h 4.2 l -2.1,2.7 z" fill="#d05f2d"/>
<path d="M 69.25,583.1 H 79.45 l 4.08,2.72 2.04,0 4.08,-2.72 H 173 v 3.4 c 0,6.8 -5.44,-5.44 -5.44,5.1 s 5.44,-1.7 5.44,5.1 v 4.1 v 17.2 H 89.65 l -4.08,2.72 -2.04,0 -4.08,-2.72 H 69.25 z" fill="#873d1d" transform="translate(.7 .7)"/>
<path d="M 69.25,583.1 H 79.45 l 4.08,2.72 2.04,0 4.08,-2.72 H 173 v 3.4 c 0,6.8 -5.44,-5.44 -5.44,5.1 s 5.44,-1.7 5.44,5.1 v 4.1 v 17.2 H 89.65 l -4.08,2.72 -2.04,0 -4.08,-2.72 H 69.25 z" fill="#df9270" transform="translate(-.35 -.35)"/>
<path d="M 69.25,583.1 H 79.45 l 4.08,2.72 2.04,0 4.08,-2.72 H 173 v 3.4 c 0,6.8 -5.44,-5.44 -5.44,5.1 s 5.44,-1.7 5.44,5.1 v 4.1 v 17.2 H 89.65 l -4.08,2.72 -2.04,0 -4.08,-2.72 H 69.25 z" fill="#d05f2d"/>
<text x="76.05" y="595" class="l">set</text>
<rect x="92.99" y="586.6" width="55.93" height="10.6" rx="2.7" fill="#fff" fill-opacity=".6"/>
<text x="96.59" y="595" class="f">global y1</text>
<path d="M 140.42,590.5 h 4.2 l -2.1,2.7 z" fill="#d05f2d"/>
<text x="152.32" y="595" class="l">to</text>
<path d="M 173.3,583.1 H 273.8 v 3.4 c 0,6.8 -5.44,-5.44 -5.44,5.1 s 5.44,-1.7 5.44,5.1 v 4 v 3.4 c 0,6.8 -5.44,-5.44 -5.44,5.1 s 5.44,-1.7 5.44,5.1 v 3.4 H 173.3 V 596.7 c 0,-6.8 -5.44,5.44 -5.44,-5.1 s 5.44,1.7 5.44,-5.1 z" fill="#2f6b89" transform="translate(.7 .7)"/>
<path d="M 173.3,583.1 H 273.8 v 3.4 c 0,6.8 -5.44,-5.44 -5.44,5.1 s 5.44,-1.7 5.44,5.1 v 4 v 3.4 c 0,6.8 -5.44,-5.44 -5.44,5.1 s 5.44,-1.7 5.44,5.1 v 3.4 H 173.3 V 596.7 c 0,-6.8 -5.44,5.44 -5.44,-5.1 s 5.44,1.7 5.44,-5.1 z" fill="#83c2e1" transform="translate(-.35 -.35)"/>
<path d="M 173.3,583.1 H 273.8 v 3.4 c 0,6.8 -5.44,-5.44 -5.44,5.1 s 5.44,-1.7 5.44,5.1 v 4 v 3.4 c 0,6.8 -5.44,-5.44 -5.44,5.1 s 5.44,-1.7 5.44,5.1 v 3.4 H 173.3 V 596.7 c 0,-6.8 -5.44,5.44 -5.44,-5.1 s 5.44,1.7 5.44,-5.1 z" fill="#49a6d4"/>
<text x="180.1" y="595" class="l">select list item  list</text>
<text x="261" y="612.6" class="l" text-anchor="end">index</text>
<path d="M 274.2,583.1 H 388.8 v 3.4 c 0,6.8 -5.44,-5.44 -5.44,5.1 s 5.44,-1.7 5.44,5.1 v 3.2 H 274.2 V 596.7 c 0,-6.8 -5.44,5.44 -5.44,-5.1 s 5.44,1.7 5.44,-5.1 z" fill="#2f6b89" transform="translate(.7 .7)"/>
<path d="M 274.2,583.1 H 388.8 v 3.4 c 0,6.8 -5.44,-5.44 -5.44,5.1 s 5.44,-1.7 5.44,5.1 v 3.2 H 274.2 V 596.7 c 0,-6.8 -5.44,5.44 -5.44,-5.1 s 5.44,1.7 5.44,-5.1 z" fill="#83c2e1" transform="translate(-.35 -.35)"/>
<path d="M 274.2,583.1 H 388.8 v 3.4 c 0,6.8 -5.44,-5.44 -5.44,5.1 s 5.44,-1.7 5.44,5.1 v 3.2 H 274.2 V 596.7 c 0,-6.8 -5.44,5.44 -5.44,-5.1 s 5.44,1.7 5.44,-5.1 z" fill="#49a6d4"/>
<text x="281" y="595" class="l">list from csv row</text>
<text x="359.3" y="595" class="l">text</text>
<path d="M 389.2,582.8 H 504.5 v 16.7 H 389.2 V 596.4 c 0,-6.8 -5.44,5.44 -5.44,-5.1 s 5.44,1.7 5.44,-5.1 z" fill="#873d1d" transform="translate(.7 .7)"/>
<path d="M 389.2,582.8 H 504.5 v 16.7 H 389.2 V 596.4 c 0,-6.8 -5.44,5.44 -5.44,-5.1 s 5.44,1.7 5.44,-5.1 z" fill="#df9270" transform="translate(-.35 -.35)"/>
<path d="M 389.2,582.8 H 504.5 v 16.7 H 389.2 V 596.4 c 0,-6.8 -5.44,5.44 -5.44,-5.1 s 5.44,1.7 5.44,-5.1 z" fill="#d05f2d"/>
<text x="396" y="594.7" class="l">get</text>
<rect x="413.5" y="586.3" width="87.06" height="10.6" rx="2.7" fill="#fff" fill-opacity=".6"/>
<text x="417.1" y="594.7" class="f">global Received</text>
<path d="M 492.06,590.2 h 4.2 l -2.1,2.7 z" fill="#d05f2d"/>
<path d="M 274.2,600.8 H 293.8 v 16.6 H 274.2 V 614.4 c 0,-6.8 -5.44,5.44 -5.44,-5.1 s 5.44,1.7 5.44,-5.1 z" fill="#284975" transform="translate(.7 .7)"/>
<path d="M 274.2,600.8 H 293.8 v 16.6 H 274.2 V 614.4 c 0,-6.8 -5.44,5.44 -5.44,-5.1 s 5.44,1.7 5.44,-5.1 z" fill="#7c9ecc" transform="translate(-.35 -.35)"/>
<path d="M 274.2,600.8 H 293.8 v 16.6 H 274.2 V 614.4 c 0,-6.8 -5.44,5.44 -5.44,-5.1 s 5.44,1.7 5.44,-5.1 z" fill="#3f71b5"/>
<rect x="277.2" y="604.3" width="13.26" height="10.6" rx="2.7" fill="#fff" fill-opacity=".6"/>
<text x="281.05" y="612.7" class="f">1</text>
<path d="M 69.25,618.7 H 79.45 l 4.08,2.72 2.04,0 4.08,-2.72 H 224.3 v 3.4 c 0,6.8 -5.44,-5.44 -5.44,5.1 s 5.44,-1.7 5.44,5.1 v 3.4 H 89.65 l -4.08,2.72 -2.04,0 -4.08,-2.72 H 69.25 z" fill="#18422b" transform="translate(.7 .7)"/>
<path d="M 69.25,618.7 H 79.45 l 4.08,2.72 2.04,0 4.08,-2.72 H 224.3 v 3.4 c 0,6.8 -5.44,-5.44 -5.44,5.1 s 5.44,-1.7 5.44,5.1 v 3.4 H 89.65 l -4.08,2.72 -2.04,0 -4.08,-2.72 H 69.25 z" fill="#6b967f" transform="translate(-.35 -.35)"/>
<path d="M 69.25,618.7 H 79.45 l 4.08,2.72 2.04,0 4.08,-2.72 H 224.3 v 3.4 c 0,6.8 -5.44,-5.44 -5.44,5.1 s 5.44,-1.7 5.44,5.1 v 3.4 H 89.65 l -4.08,2.72 -2.04,0 -4.08,-2.72 H 69.25 z" fill="#266643"/>
<text x="76.05" y="630.6" class="l">set</text>
<rect x="95.29" y="622.2" width="58.16" height="10.6" rx="2.7" fill="#fff" fill-opacity=".6"/>
<text x="98.89" y="630.6" class="f">Etiqueta2</text>
<path d="M 144.95,626.1 h 4.2 l -2.1,2.7 z" fill="#266643"/>
<text x="157.15" y="630.6" class="l">.</text>
<rect x="163.62" y="622.2" width="34.24" height="10.6" rx="2.7" fill="#fff" fill-opacity=".6"/>
<text x="167.22" y="630.6" class="f">Text</text>
<path d="M 189.36,626.1 h 4.2 l -2.1,2.7 z" fill="#266643"/>
<text x="203.86" y="630.6" class="l">to</text>
<path d="M 224.6,618.7 H 309.3 v 16.9 H 224.6 V 632.3 c 0,-6.8 -5.44,5.44 -5.44,-5.1 s 5.44,1.7 5.44,-5.1 z" fill="#873d1d" transform="translate(.7 .7)"/>
<path d="M 224.6,618.7 H 309.3 v 16.9 H 224.6 V 632.3 c 0,-6.8 -5.44,5.44 -5.44,-5.1 s 5.44,1.7 5.44,-5.1 z" fill="#df9270" transform="translate(-.35 -.35)"/>
<path d="M 224.6,618.7 H 309.3 v 16.9 H 224.6 V 632.3 c 0,-6.8 -5.44,5.44 -5.44,-5.1 s 5.44,1.7 5.44,-5.1 z" fill="#d05f2d"/>
<text x="231.4" y="630.6" class="l">get</text>
<rect x="248.9" y="622.2" width="55.93" height="10.6" rx="2.7" fill="#fff" fill-opacity=".6"/>
<text x="252.5" y="630.6" class="f">global y1</text>
<path d="M 296.33,626.1 h 4.2 l -2.1,2.7 z" fill="#d05f2d"/>
<path d="M 69.25,636.4 H 79.45 l 4.08,2.72 2.04,0 4.08,-2.72 H 214.3 v 17.2 v 3.4 c 0,6.8 -5.44,-5.44 -5.44,5.1 s 5.44,-1.7 5.44,5.1 v 3.9 v 3.4 c 0,6.8 -5.44,-5.44 -5.44,5.1 s 5.44,-1.7 5.44,5.1 v 12.5 v 3.4 c 0,6.8 -5.44,-5.44 -5.44,5.1 s 5.44,-1.7 5.44,5.1 v 3.9 v 3.4 c 0,6.8 -5.44,-5.44 -5.44,5.1 s 5.44,-1.7 5.44,5.1 v 2.5 H 89.65 l -4.08,2.72 -2.04,0 -4.08,-2.72 H 74.69 a 5.44,5.44 0 0,1 -5.44,-5.44 z" fill="#503556" transform="translate(.7 .7)"/>
<path d="M 69.25,636.4 H 79.45 l 4.08,2.72 2.04,0 4.08,-2.72 H 214.3 v 17.2 v 3.4 c 0,6.8 -5.44,-5.44 -5.44,5.1 s 5.44,-1.7 5.44,5.1 v 3.9 v 3.4 c 0,6.8 -5.44,-5.44 -5.44,5.1 s 5.44,-1.7 5.44,5.1 v 12.5 v 3.4 c 0,6.8 -5.44,-5.44 -5.44,5.1 s 5.44,-1.7 5.44,5.1 v 3.9 v 3.4 c 0,6.8 -5.44,-5.44 -5.44,5.1 s 5.44,-1.7 5.44,5.1 v 2.5 H 89.65 l -4.08,2.72 -2.04,0 -4.08,-2.72 H 74.69 a 5.44,5.44 0 0,1 -5.44,-5.44 z" fill="#a58aac" transform="translate(-.35 -.35)"/>
<path d="M 69.25,636.4 H 79.45 l 4.08,2.72 2.04,0 4.08,-2.72 H 214.3 v 17.2 v 3.4 c 0,6.8 -5.44,-5.44 -5.44,5.1 s 5.44,-1.7 5.44,5.1 v 3.9 v 3.4 c 0,6.8 -5.44,-5.44 -5.44,5.1 s 5.44,-1.7 5.44,5.1 v 12.5 v 3.4 c 0,6.8 -5.44,-5.44 -5.44,5.1 s 5.44,-1.7 5.44,5.1 v 3.9 v 3.4 c 0,6.8 -5.44,-5.44 -5.44,5.1 s 5.44,-1.7 5.44,5.1 v 2.5 H 89.65 l -4.08,2.72 -2.04,0 -4.08,-2.72 H 74.69 a 5.44,5.44 0 0,1 -5.44,-5.44 z" fill="#7c5385"/>
<text x="76.05" y="648.3" class="l">call</text>
<rect x="96.96" y="639.9" width="55.37" height="10.6" rx="2.7" fill="#fff" fill-opacity=".6"/>
<text x="100.56" y="648.3" class="f">Canvas1</text>
<path d="M 143.82,643.8 h 4.2 l -2.1,2.7 z" fill="#7c5385"/>
<text x="155.62" y="648.3" class="l">.DrawLine</text>
<text x="201" y="665.5" class="l" text-anchor="end">x1</text>
<text x="201" y="683" class="l" text-anchor="end">y1</text>
<text x="201" y="709.1" class="l" text-anchor="end">x2</text>
<text x="201" y="726.6" class="l" text-anchor="end">y2</text>
<path d="M 214.6,653.6 H 298.8 v 16.7 H 214.6 V 667.2 c 0,-6.8 -5.44,5.44 -5.44,-5.1 s 5.44,1.7 5.44,-5.1 z" fill="#873d1d" transform="translate(.7 .7)"/>
<path d="M 214.6,653.6 H 298.8 v 16.7 H 214.6 V 667.2 c 0,-6.8 -5.44,5.44 -5.44,-5.1 s 5.44,1.7 5.44,-5.1 z" fill="#df9270" transform="translate(-.35 -.35)"/>
<path d="M 214.6,653.6 H 298.8 v 16.7 H 214.6 V 667.2 c 0,-6.8 -5.44,5.44 -5.44,-5.1 s 5.44,1.7 5.44,-5.1 z" fill="#d05f2d"/>
<text x="221.4" y="665.5" class="l">get</text>
<rect x="238.9" y="657.1" width="55.93" height="10.6" rx="2.7" fill="#fff" fill-opacity=".6"/>
<text x="242.5" y="665.5" class="f">global x1</text>
<path d="M 286.33,661 h 4.2 l -2.1,2.7 z" fill="#d05f2d"/>
<path d="M 214.6,671.2 H 370.5 v 25.6 H 214.6 V 684.8 c 0,-6.8 -5.44,5.44 -5.44,-5.1 s 5.44,1.7 5.44,-5.1 z" fill="#284975" transform="translate(.7 .7)"/>
<path d="M 214.6,671.2 H 370.5 v 25.6 H 214.6 V 684.8 c 0,-6.8 -5.44,5.44 -5.44,-5.1 s 5.44,1.7 5.44,-5.1 z" fill="#7c9ecc" transform="translate(-.35 -.35)"/>
<path d="M 214.6,671.2 H 370.5 v 25.6 H 214.6 V 684.8 c 0,-6.8 -5.44,5.44 -5.44,-5.1 s 5.44,1.7 5.44,-5.1 z" fill="#3f71b5"/>
<path d="M 225.4,675.4 H 257.8 V 693 H 225.4 V 689 c 0,-6.8 -5.44,5.44 -5.44,-5.1 s 5.44,1.7 5.44,-5.1 z" fill="#2c4f7e" transform="translate(-.6 -.6)"/>
<path d="M 225.4,675.4 H 257.8 V 693 H 225.4 V 689 c 0,-6.8 -5.44,5.44 -5.44,-5.1 s 5.44,1.7 5.44,-5.1 z" fill="#789bcb" transform="translate(.8 .8)"/>
<path d="M 278.8,675.4 H 363 V 693 H 278.8 V 689 c 0,-6.8 -5.44,5.44 -5.44,-5.1 s 5.44,1.7 5.44,-5.1 z" fill="#2c4f7e" transform="translate(-.6 -.6)"/>
<path d="M 278.8,675.4 H 363 V 693 H 278.8 V 689 c 0,-6.8 -5.44,5.44 -5.44,-5.1 s 5.44,1.7 5.44,-5.1 z" fill="#789bcb" transform="translate(.8 .8)"/>
<path d="M 225.6,675.4 H 257.8 v 17 H 225.6 V 689 c 0,-6.8 -5.44,5.44 -5.44,-5.1 s 5.44,1.7 5.44,-5.1 z" fill="#284975" transform="translate(.7 .7)"/>
<path d="M 225.6,675.4 H 257.8 v 17 H 225.6 V 689 c 0,-6.8 -5.44,5.44 -5.44,-5.1 s 5.44,1.7 5.44,-5.1 z" fill="#7c9ecc" transform="translate(-.35 -.35)"/>
<path d="M 225.6,675.4 H 257.8 v 17 H 225.6 V 689 c 0,-6.8 -5.44,5.44 -5.44,-5.1 s 5.44,1.7 5.44,-5.1 z" fill="#3f71b5"/>
<rect x="228.6" y="679" width="24.39" height="10.6" rx="2.7" fill="#fff" fill-opacity=".6"/>
<text x="232.45" y="687.4" class="f">100</text>
<text x="263.2" y="687.3" class="l">-</text>
<path d="M 278.8,675.4 H 363 v 17 H 278.8 V 689 c 0,-6.8 -5.44,5.44 -5.44,-5.1 s 5.44,1.7 5.44,-5.1 z" fill="#873d1d" transform="translate(.7 .7)"/>
<path d="M 278.8,675.4 H 363 v 17 H 278.8 V 689 c 0,-6.8 -5.44,5.44 -5.44,-5.1 s 5.44,1.7 5.44,-5.1 z" fill="#df9270" transform="translate(-.35 -.35)"/>
<path d="M 278.8,675.4 H 363 v 17 H 278.8 V 689 c 0,-6.8 -5.44,5.44 -5.44,-5.1 s 5.44,1.7 5.44,-5.1 z" fill="#d05f2d"/>
<text x="285.6" y="687.3" class="l">get</text>
<rect x="303.1" y="678.9" width="55.93" height="10.6" rx="2.7" fill="#fff" fill-opacity=".6"/>
<text x="306.7" y="687.3" class="f">global y1</text>
<path d="M 350.53,682.8 h 4.2 l -2.1,2.7 z" fill="#d05f2d"/>
<path d="M 214.6,697.3 H 298.8 v 16.7 H 214.6 V 710.9 c 0,-6.8 -5.44,5.44 -5.44,-5.1 s 5.44,1.7 5.44,-5.1 z" fill="#873d1d" transform="translate(.7 .7)"/>
<path d="M 214.6,697.3 H 298.8 v 16.7 H 214.6 V 710.9 c 0,-6.8 -5.44,5.44 -5.44,-5.1 s 5.44,1.7 5.44,-5.1 z" fill="#df9270" transform="translate(-.35 -.35)"/>
<path d="M 214.6,697.3 H 298.8 v 16.7 H 214.6 V 710.9 c 0,-6.8 -5.44,5.44 -5.44,-5.1 s 5.44,1.7 5.44,-5.1 z" fill="#d05f2d"/>
<text x="221.4" y="709.2" class="l">get</text>
<rect x="238.9" y="700.8" width="55.93" height="10.6" rx="2.7" fill="#fff" fill-opacity=".6"/>
<text x="242.5" y="709.2" class="f">global x2</text>
<path d="M 286.33,704.7 h 4.2 l -2.1,2.7 z" fill="#d05f2d"/>
<path d="M 214.6,714.8 H 245 v 16.6 H 214.6 V 728.4 c 0,-6.8 -5.44,5.44 -5.44,-5.1 s 5.44,1.7 5.44,-5.1 z" fill="#284975" transform="translate(.7 .7)"/>
<path d="M 214.6,714.8 H 245 v 16.6 H 214.6 V 728.4 c 0,-6.8 -5.44,5.44 -5.44,-5.1 s 5.44,1.7 5.44,-5.1 z" fill="#7c9ecc" transform="translate(-.35 -.35)"/>
<path d="M 214.6,714.8 H 245 v 16.6 H 214.6 V 728.4 c 0,-6.8 -5.44,5.44 -5.44,-5.1 s 5.44,1.7 5.44,-5.1 z" fill="#3f71b5"/>
<rect x="217.6" y="718.3" width="24.39" height="10.6" rx="2.7" fill="#fff" fill-opacity=".6"/>
<text x="221.45" y="726.7" class="f">100</text>
</svg>
</body></html>
